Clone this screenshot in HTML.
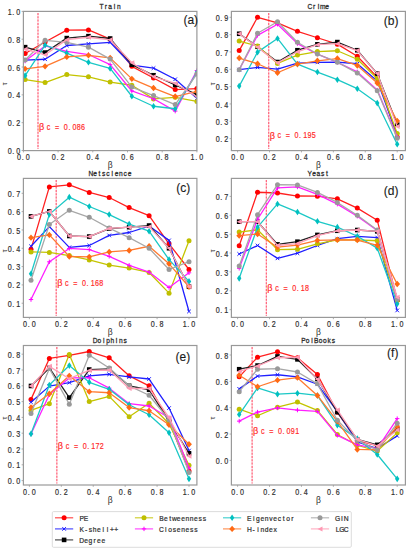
<!DOCTYPE html><html><head><meta charset="utf-8"><style>html,body{margin:0;padding:0;background:#fff;}svg{display:block;}text{font-family:"Liberation Sans", sans-serif;}</style></head><body>
<svg width="409" height="550" viewBox="0 0 409 550">
<rect width="409" height="550" fill="#fff"/>
<defs><clipPath id="clip_a"><rect x="23.40" y="11.40" width="173.50" height="139.20"/></clipPath></defs>
<text transform="scale(0.850 1)" x="119.47 124.53 129.59 134.65 139.71" y="8.80" font-size="7.80" fill="#2e2e2e" text-anchor="middle" font-weight="normal" stroke="#2e2e2e" stroke-width="0.30" >Train</text>
<line x1="21.60" y1="150.50" x2="23.40" y2="150.50" stroke="#999999" stroke-width="0.8"/>
<text transform="scale(0.850 1)" x="11.35 15.59 21.47" y="154.10" font-size="8.40" fill="#2e2e2e" text-anchor="middle" font-weight="normal" stroke="#2e2e2e" stroke-width="0.18" >0.0</text>
<line x1="21.60" y1="122.68" x2="23.40" y2="122.68" stroke="#999999" stroke-width="0.8"/>
<text transform="scale(0.850 1)" x="11.35 15.59 21.47" y="126.28" font-size="8.40" fill="#2e2e2e" text-anchor="middle" font-weight="normal" stroke="#2e2e2e" stroke-width="0.18" >0.2</text>
<line x1="21.60" y1="94.86" x2="23.40" y2="94.86" stroke="#999999" stroke-width="0.8"/>
<text transform="scale(0.850 1)" x="11.35 15.59 21.47" y="98.46" font-size="8.40" fill="#2e2e2e" text-anchor="middle" font-weight="normal" stroke="#2e2e2e" stroke-width="0.18" >0.4</text>
<line x1="21.60" y1="67.04" x2="23.40" y2="67.04" stroke="#999999" stroke-width="0.8"/>
<text transform="scale(0.850 1)" x="11.35 15.59 21.47" y="70.64" font-size="8.40" fill="#2e2e2e" text-anchor="middle" font-weight="normal" stroke="#2e2e2e" stroke-width="0.18" >0.6</text>
<line x1="21.60" y1="39.22" x2="23.40" y2="39.22" stroke="#999999" stroke-width="0.8"/>
<text transform="scale(0.850 1)" x="11.35 15.59 21.47" y="42.82" font-size="8.40" fill="#2e2e2e" text-anchor="middle" font-weight="normal" stroke="#2e2e2e" stroke-width="0.18" >0.8</text>
<line x1="21.60" y1="11.40" x2="23.40" y2="11.40" stroke="#999999" stroke-width="0.8"/>
<text transform="scale(0.850 1)" x="11.35 15.59 21.47" y="15.00" font-size="8.40" fill="#2e2e2e" text-anchor="middle" font-weight="normal" stroke="#2e2e2e" stroke-width="0.18" >1.0</text>
<line x1="23.40" y1="150.60" x2="23.40" y2="152.40" stroke="#999999" stroke-width="0.8"/>
<text transform="scale(0.850 1)" x="22.47 26.71 32.59" y="160.20" font-size="8.40" fill="#2e2e2e" text-anchor="middle" font-weight="normal" stroke="#2e2e2e" stroke-width="0.18" >0.0</text>
<line x1="58.10" y1="150.60" x2="58.10" y2="152.40" stroke="#999999" stroke-width="0.8"/>
<text transform="scale(0.850 1)" x="63.29 67.53 73.41" y="160.20" font-size="8.40" fill="#2e2e2e" text-anchor="middle" font-weight="normal" stroke="#2e2e2e" stroke-width="0.18" >0.2</text>
<line x1="92.80" y1="150.60" x2="92.80" y2="152.40" stroke="#999999" stroke-width="0.8"/>
<text transform="scale(0.850 1)" x="104.12 108.35 114.24" y="160.20" font-size="8.40" fill="#2e2e2e" text-anchor="middle" font-weight="normal" stroke="#2e2e2e" stroke-width="0.18" >0.4</text>
<line x1="127.50" y1="150.60" x2="127.50" y2="152.40" stroke="#999999" stroke-width="0.8"/>
<text transform="scale(0.850 1)" x="144.94 149.18 155.06" y="160.20" font-size="8.40" fill="#2e2e2e" text-anchor="middle" font-weight="normal" stroke="#2e2e2e" stroke-width="0.18" >0.6</text>
<line x1="162.20" y1="150.60" x2="162.20" y2="152.40" stroke="#999999" stroke-width="0.8"/>
<text transform="scale(0.850 1)" x="185.76 190.00 195.88" y="160.20" font-size="8.40" fill="#2e2e2e" text-anchor="middle" font-weight="normal" stroke="#2e2e2e" stroke-width="0.18" >0.8</text>
<line x1="196.90" y1="150.60" x2="196.90" y2="152.40" stroke="#999999" stroke-width="0.8"/>
<text transform="scale(0.850 1)" x="226.59 230.82 236.71" y="160.20" font-size="8.40" fill="#2e2e2e" text-anchor="middle" font-weight="normal" stroke="#2e2e2e" stroke-width="0.18" >1.0</text>
<text x="110.15" y="168.40" font-size="8.5" fill="#2e2e2e" text-anchor="middle">β</text>
<text x="0" y="0" font-size="7" fill="#2e2e2e" text-anchor="middle" transform="translate(7.10 83.90) rotate(-90)">τ</text>
<line x1="38.00" y1="13.00" x2="38.00" y2="149.10" stroke="#ff5070" stroke-width="1.1" opacity="0.28"/>
<line x1="38.00" y1="13.00" x2="38.00" y2="149.10" stroke="#ff3a55" stroke-width="1.15" stroke-dasharray="2 1.3" opacity="0.75"/>
<text x="39.00" y="130.00" font-size="9.00" fill="#ff2a2a" stroke="#ff2a2a" stroke-width="0.2">β</text>
<text transform="scale(0.850 1)" x="57.18 62.24 67.29 72.35 77.41 81.65 87.53 92.59 97.65" y="130.00" font-size="8.40" fill="#ff2a2a" text-anchor="middle" font-weight="normal" stroke="#ff2a2a" stroke-width="0.18" >c = 0.086</text>
<g clip-path="url(#clip_a)">
<polyline points="25.13,53.55 45.09,42.00 66.78,30.18 88.46,29.90 110.15,39.22 131.84,66.34 153.53,78.03 175.21,89.57 196.90,88.60" fill="none" stroke="#ff2020" stroke-width="1.3" stroke-linejoin="round"/>
<circle cx="25.13" cy="53.55" r="2.50" fill="#ff0000"/>
<circle cx="45.09" cy="42.00" r="2.50" fill="#ff0000"/>
<circle cx="66.78" cy="30.18" r="2.50" fill="#ff0000"/>
<circle cx="88.46" cy="29.90" r="2.50" fill="#ff0000"/>
<circle cx="110.15" cy="39.22" r="2.50" fill="#ff0000"/>
<circle cx="131.84" cy="66.34" r="2.50" fill="#ff0000"/>
<circle cx="153.53" cy="78.03" r="2.50" fill="#ff0000"/>
<circle cx="175.21" cy="89.57" r="2.50" fill="#ff0000"/>
<circle cx="196.90" cy="88.60" r="2.50" fill="#ff0000"/>
<polyline points="25.13,60.22 45.09,59.25 66.78,45.48 88.46,43.81 110.15,42.28 131.84,65.23 153.53,68.15 175.21,79.28 196.90,98.20" fill="none" stroke="#2020ff" stroke-width="1.3" stroke-linejoin="round"/>
<path d="M23.33 58.42L26.93 62.02M23.33 62.02L26.93 58.42" stroke="#1a1aff" stroke-width="1" fill="none"/>
<path d="M43.29 57.45L46.89 61.05M43.29 61.05L46.89 57.45" stroke="#1a1aff" stroke-width="1" fill="none"/>
<path d="M64.98 43.68L68.58 47.28M64.98 47.28L68.58 43.68" stroke="#1a1aff" stroke-width="1" fill="none"/>
<path d="M86.66 42.01L90.26 45.61M86.66 45.61L90.26 42.01" stroke="#1a1aff" stroke-width="1" fill="none"/>
<path d="M108.35 40.48L111.95 44.08M108.35 44.08L111.95 40.48" stroke="#1a1aff" stroke-width="1" fill="none"/>
<path d="M130.04 63.43L133.64 67.03M130.04 67.03L133.64 63.43" stroke="#1a1aff" stroke-width="1" fill="none"/>
<path d="M151.72 66.35L155.33 69.95M151.72 69.95L155.33 66.35" stroke="#1a1aff" stroke-width="1" fill="none"/>
<path d="M173.41 77.48L177.01 81.08M173.41 81.08L177.01 77.48" stroke="#1a1aff" stroke-width="1" fill="none"/>
<path d="M195.10 96.40L198.70 100.00M195.10 100.00L198.70 96.40" stroke="#1a1aff" stroke-width="1" fill="none"/>
<polyline points="25.13,47.15 45.09,52.57 66.78,38.11 88.46,36.16 110.15,38.52 131.84,64.68 153.53,75.25 175.21,84.98 196.90,94.44" fill="none" stroke="#222222" stroke-width="1.3" stroke-linejoin="round"/>
<rect x="22.83" y="44.85" width="4.60" height="4.60" fill="#000000"/>
<rect x="42.79" y="50.27" width="4.60" height="4.60" fill="#000000"/>
<rect x="64.48" y="35.81" width="4.60" height="4.60" fill="#000000"/>
<rect x="86.16" y="33.86" width="4.60" height="4.60" fill="#000000"/>
<rect x="107.85" y="36.22" width="4.60" height="4.60" fill="#000000"/>
<rect x="129.54" y="62.38" width="4.60" height="4.60" fill="#000000"/>
<rect x="151.22" y="72.95" width="4.60" height="4.60" fill="#000000"/>
<rect x="172.91" y="82.68" width="4.60" height="4.60" fill="#000000"/>
<rect x="194.60" y="92.14" width="4.60" height="4.60" fill="#000000"/>
<polyline points="25.13,79.56 45.09,82.62 66.78,74.55 88.46,76.78 110.15,82.06 131.84,85.26 153.53,98.89 175.21,97.36 196.90,101.40" fill="none" stroke="#c4c400" stroke-width="1.3" stroke-linejoin="round"/>
<circle cx="25.13" cy="79.56" r="2.50" fill="#bfbf00"/>
<circle cx="45.09" cy="82.62" r="2.50" fill="#bfbf00"/>
<circle cx="66.78" cy="74.55" r="2.50" fill="#bfbf00"/>
<circle cx="88.46" cy="76.78" r="2.50" fill="#bfbf00"/>
<circle cx="110.15" cy="82.06" r="2.50" fill="#bfbf00"/>
<circle cx="131.84" cy="85.26" r="2.50" fill="#bfbf00"/>
<circle cx="153.53" cy="98.89" r="2.50" fill="#bfbf00"/>
<circle cx="175.21" cy="97.36" r="2.50" fill="#bfbf00"/>
<circle cx="196.90" cy="101.40" r="2.50" fill="#bfbf00"/>
<polyline points="25.13,61.06 45.09,45.90 66.78,51.46 88.46,54.52 110.15,64.68 131.84,90.97 153.53,98.75 175.21,111.13 196.90,70.52" fill="none" stroke="#ff20ff" stroke-width="1.3" stroke-linejoin="round"/>
<path d="M22.93 61.06L27.33 61.06M25.13 58.86L25.13 63.26" stroke="#ff00ff" stroke-width="1" fill="none"/>
<path d="M42.89 45.90L47.29 45.90M45.09 43.70L45.09 48.10" stroke="#ff00ff" stroke-width="1" fill="none"/>
<path d="M64.58 51.46L68.98 51.46M66.78 49.26L66.78 53.66" stroke="#ff00ff" stroke-width="1" fill="none"/>
<path d="M86.26 54.52L90.66 54.52M88.46 52.32L88.46 56.72" stroke="#ff00ff" stroke-width="1" fill="none"/>
<path d="M107.95 64.68L112.35 64.68M110.15 62.48L110.15 66.88" stroke="#ff00ff" stroke-width="1" fill="none"/>
<path d="M129.64 90.97L134.04 90.97M131.84 88.77L131.84 93.17" stroke="#ff00ff" stroke-width="1" fill="none"/>
<path d="M151.33 98.75L155.72 98.75M153.53 96.55L153.53 100.95" stroke="#ff00ff" stroke-width="1" fill="none"/>
<path d="M173.01 111.13L177.41 111.13M175.21 108.93L175.21 113.33" stroke="#ff00ff" stroke-width="1" fill="none"/>
<path d="M194.70 70.52L199.10 70.52M196.90 68.32L196.90 72.72" stroke="#ff00ff" stroke-width="1" fill="none"/>
<polyline points="25.13,75.66 45.09,45.06 66.78,53.13 88.46,62.31 110.15,68.43 131.84,96.25 153.53,106.27 175.21,108.77 196.90,72.33" fill="none" stroke="#1cc8c6" stroke-width="1.3" stroke-linejoin="round"/>
<path d="M25.13 72.36L27.33 75.66L25.13 78.96L22.93 75.66Z" fill="#00c0c0"/>
<path d="M45.09 41.76L47.29 45.06L45.09 48.36L42.89 45.06Z" fill="#00c0c0"/>
<path d="M66.78 49.83L68.98 53.13L66.78 56.43L64.58 53.13Z" fill="#00c0c0"/>
<path d="M88.46 59.01L90.66 62.31L88.46 65.61L86.26 62.31Z" fill="#00c0c0"/>
<path d="M110.15 65.13L112.35 68.43L110.15 71.73L107.95 68.43Z" fill="#00c0c0"/>
<path d="M131.84 92.95L134.04 96.25L131.84 99.55L129.64 96.25Z" fill="#00c0c0"/>
<path d="M153.53 102.97L155.72 106.27L153.53 109.57L151.33 106.27Z" fill="#00c0c0"/>
<path d="M175.21 105.47L177.41 108.77L175.21 112.07L173.01 108.77Z" fill="#00c0c0"/>
<path d="M196.90 69.03L199.10 72.33L196.90 75.63L194.70 72.33Z" fill="#00c0c0"/>
<polyline points="25.13,68.85 45.09,66.34 66.78,56.89 88.46,55.36 110.15,57.86 131.84,78.86 153.53,88.04 175.21,96.53 196.90,91.38" fill="none" stroke="#ff7a30" stroke-width="1.3" stroke-linejoin="round"/>
<path d="M25.13 65.65L28.03 68.85L25.13 72.05L22.23 68.85Z" fill="#ff6a14"/>
<path d="M45.09 63.14L47.99 66.34L45.09 69.54L42.19 66.34Z" fill="#ff6a14"/>
<path d="M66.78 53.69L69.68 56.89L66.78 60.09L63.88 56.89Z" fill="#ff6a14"/>
<path d="M88.46 52.16L91.36 55.36L88.46 58.56L85.56 55.36Z" fill="#ff6a14"/>
<path d="M110.15 54.66L113.05 57.86L110.15 61.06L107.25 57.86Z" fill="#ff6a14"/>
<path d="M131.84 75.66L134.74 78.86L131.84 82.06L128.94 78.86Z" fill="#ff6a14"/>
<path d="M153.53 84.84L156.43 88.04L153.53 91.24L150.62 88.04Z" fill="#ff6a14"/>
<path d="M175.21 93.33L178.11 96.53L175.21 99.73L172.31 96.53Z" fill="#ff6a14"/>
<path d="M196.90 88.18L199.80 91.38L196.90 94.58L194.00 91.38Z" fill="#ff6a14"/>
<polyline points="25.13,59.95 45.09,40.33 66.78,42.28 88.46,47.15 110.15,59.11 131.84,87.07 153.53,95.56 175.21,104.60 196.90,73.99" fill="none" stroke="#a8a8a8" stroke-width="1.3" stroke-linejoin="round"/>
<circle cx="25.13" cy="59.95" r="2.50" fill="#999999"/>
<circle cx="45.09" cy="40.33" r="2.50" fill="#999999"/>
<circle cx="66.78" cy="42.28" r="2.50" fill="#999999"/>
<circle cx="88.46" cy="47.15" r="2.50" fill="#999999"/>
<circle cx="110.15" cy="59.11" r="2.50" fill="#999999"/>
<circle cx="131.84" cy="87.07" r="2.50" fill="#999999"/>
<circle cx="153.53" cy="95.56" r="2.50" fill="#999999"/>
<circle cx="175.21" cy="104.60" r="2.50" fill="#999999"/>
<circle cx="196.90" cy="73.99" r="2.50" fill="#999999"/>
<polyline points="25.13,49.24 45.09,54.80 66.78,39.64 88.46,37.27 110.15,39.78 131.84,62.73 153.53,76.64 175.21,83.45 196.90,96.81" fill="none" stroke="#ffa0b8" stroke-width="1.3" stroke-linejoin="round"/>
<path d="M22.63 49.24L27.63 46.74L27.63 51.74Z" fill="#ff99b4"/>
<path d="M42.59 54.80L47.59 52.30L47.59 57.30Z" fill="#ff99b4"/>
<path d="M64.28 39.64L69.28 37.14L69.28 42.14Z" fill="#ff99b4"/>
<path d="M85.96 37.27L90.96 34.77L90.96 39.77Z" fill="#ff99b4"/>
<path d="M107.65 39.78L112.65 37.28L112.65 42.28Z" fill="#ff99b4"/>
<path d="M129.34 62.73L134.34 60.23L134.34 65.23Z" fill="#ff99b4"/>
<path d="M151.03 76.64L156.03 74.14L156.03 79.14Z" fill="#ff99b4"/>
<path d="M172.71 83.45L177.71 80.95L177.71 85.95Z" fill="#ff99b4"/>
<path d="M194.40 96.81L199.40 94.31L199.40 99.31Z" fill="#ff99b4"/>
</g>
<rect x="23.40" y="11.40" width="173.50" height="139.20" fill="none" stroke="#999999" stroke-width="1.2"/>
<text x="198.10" y="24.40" font-size="12" fill="#1a1a1a" stroke="#1a1a1a" stroke-width="0.12" text-anchor="end">(a)</text>
<defs><clipPath id="clip_b"><rect x="231.40" y="11.40" width="174.00" height="139.20"/></clipPath></defs>
<text transform="scale(0.850 1)" x="364.47 369.53 374.59 379.65 384.71" y="8.80" font-size="7.80" fill="#2e2e2e" text-anchor="middle" font-weight="normal" stroke="#2e2e2e" stroke-width="0.30" >Crime</text>
<line x1="229.60" y1="138.61" x2="231.40" y2="138.61" stroke="#999999" stroke-width="0.8"/>
<text transform="scale(0.850 1)" x="256.06 260.29 266.18" y="142.21" font-size="8.40" fill="#2e2e2e" text-anchor="middle" font-weight="normal" stroke="#2e2e2e" stroke-width="0.18" >0.2</text>
<line x1="229.60" y1="121.28" x2="231.40" y2="121.28" stroke="#999999" stroke-width="0.8"/>
<text transform="scale(0.850 1)" x="256.06 260.29 266.18" y="124.88" font-size="8.40" fill="#2e2e2e" text-anchor="middle" font-weight="normal" stroke="#2e2e2e" stroke-width="0.18" >0.3</text>
<line x1="229.60" y1="103.95" x2="231.40" y2="103.95" stroke="#999999" stroke-width="0.8"/>
<text transform="scale(0.850 1)" x="256.06 260.29 266.18" y="107.55" font-size="8.40" fill="#2e2e2e" text-anchor="middle" font-weight="normal" stroke="#2e2e2e" stroke-width="0.18" >0.4</text>
<line x1="229.60" y1="86.62" x2="231.40" y2="86.62" stroke="#999999" stroke-width="0.8"/>
<text transform="scale(0.850 1)" x="256.06 260.29 266.18" y="90.22" font-size="8.40" fill="#2e2e2e" text-anchor="middle" font-weight="normal" stroke="#2e2e2e" stroke-width="0.18" >0.5</text>
<line x1="229.60" y1="69.29" x2="231.40" y2="69.29" stroke="#999999" stroke-width="0.8"/>
<text transform="scale(0.850 1)" x="256.06 260.29 266.18" y="72.89" font-size="8.40" fill="#2e2e2e" text-anchor="middle" font-weight="normal" stroke="#2e2e2e" stroke-width="0.18" >0.6</text>
<line x1="229.60" y1="51.96" x2="231.40" y2="51.96" stroke="#999999" stroke-width="0.8"/>
<text transform="scale(0.850 1)" x="256.06 260.29 266.18" y="55.56" font-size="8.40" fill="#2e2e2e" text-anchor="middle" font-weight="normal" stroke="#2e2e2e" stroke-width="0.18" >0.7</text>
<line x1="229.60" y1="34.63" x2="231.40" y2="34.63" stroke="#999999" stroke-width="0.8"/>
<text transform="scale(0.850 1)" x="256.06 260.29 266.18" y="38.23" font-size="8.40" fill="#2e2e2e" text-anchor="middle" font-weight="normal" stroke="#2e2e2e" stroke-width="0.18" >0.8</text>
<line x1="229.60" y1="17.30" x2="231.40" y2="17.30" stroke="#999999" stroke-width="0.8"/>
<text transform="scale(0.850 1)" x="256.06 260.29 266.18" y="20.90" font-size="8.40" fill="#2e2e2e" text-anchor="middle" font-weight="normal" stroke="#2e2e2e" stroke-width="0.18" >0.9</text>
<line x1="237.60" y1="150.60" x2="237.60" y2="152.40" stroke="#999999" stroke-width="0.8"/>
<text transform="scale(0.850 1)" x="274.47 278.71 284.59" y="160.20" font-size="8.40" fill="#2e2e2e" text-anchor="middle" font-weight="normal" stroke="#2e2e2e" stroke-width="0.18" >0.0</text>
<line x1="269.52" y1="150.60" x2="269.52" y2="152.40" stroke="#999999" stroke-width="0.8"/>
<text transform="scale(0.850 1)" x="312.02 316.26 322.14" y="160.20" font-size="8.40" fill="#2e2e2e" text-anchor="middle" font-weight="normal" stroke="#2e2e2e" stroke-width="0.18" >0.2</text>
<line x1="301.44" y1="150.60" x2="301.44" y2="152.40" stroke="#999999" stroke-width="0.8"/>
<text transform="scale(0.850 1)" x="349.58 353.81 359.69" y="160.20" font-size="8.40" fill="#2e2e2e" text-anchor="middle" font-weight="normal" stroke="#2e2e2e" stroke-width="0.18" >0.4</text>
<line x1="333.36" y1="150.60" x2="333.36" y2="152.40" stroke="#999999" stroke-width="0.8"/>
<text transform="scale(0.850 1)" x="387.13 391.36 397.25" y="160.20" font-size="8.40" fill="#2e2e2e" text-anchor="middle" font-weight="normal" stroke="#2e2e2e" stroke-width="0.18" >0.6</text>
<line x1="365.28" y1="150.60" x2="365.28" y2="152.40" stroke="#999999" stroke-width="0.8"/>
<text transform="scale(0.850 1)" x="424.68 428.92 434.80" y="160.20" font-size="8.40" fill="#2e2e2e" text-anchor="middle" font-weight="normal" stroke="#2e2e2e" stroke-width="0.18" >0.8</text>
<line x1="397.20" y1="150.60" x2="397.20" y2="152.40" stroke="#999999" stroke-width="0.8"/>
<text transform="scale(0.850 1)" x="462.24 466.47 472.35" y="160.20" font-size="8.40" fill="#2e2e2e" text-anchor="middle" font-weight="normal" stroke="#2e2e2e" stroke-width="0.18" >1.0</text>
<text x="318.40" y="168.40" font-size="8.5" fill="#2e2e2e" text-anchor="middle">β</text>
<text x="0" y="0" font-size="7" fill="#2e2e2e" text-anchor="middle" transform="translate(215.10 83.90) rotate(-90)">τ</text>
<line x1="268.72" y1="13.00" x2="268.72" y2="149.10" stroke="#ff5070" stroke-width="1.1" opacity="0.28"/>
<line x1="268.72" y1="13.00" x2="268.72" y2="149.10" stroke="#ff3a55" stroke-width="1.15" stroke-dasharray="2 1.3" opacity="0.75"/>
<text x="269.72" y="138.50" font-size="9.00" fill="#ff2a2a" stroke="#ff2a2a" stroke-width="0.2">β</text>
<text transform="scale(0.850 1)" x="328.61 333.67 338.73 343.79 348.85 353.08 358.97 364.03 369.08" y="138.50" font-size="8.40" fill="#ff2a2a" text-anchor="middle" font-weight="normal" stroke="#ff2a2a" stroke-width="0.18" >c = 0.195</text>
<g clip-path="url(#clip_b)">
<polyline points="239.20,50.57 257.55,17.30 277.50,22.85 297.45,31.34 317.40,37.75 337.35,44.16 357.30,56.29 377.25,77.09 397.20,136.88" fill="none" stroke="#ff2020" stroke-width="1.3" stroke-linejoin="round"/>
<circle cx="239.20" cy="50.57" r="2.50" fill="#ff0000"/>
<circle cx="257.55" cy="17.30" r="2.50" fill="#ff0000"/>
<circle cx="277.50" cy="22.85" r="2.50" fill="#ff0000"/>
<circle cx="297.45" cy="31.34" r="2.50" fill="#ff0000"/>
<circle cx="317.40" cy="37.75" r="2.50" fill="#ff0000"/>
<circle cx="337.35" cy="44.16" r="2.50" fill="#ff0000"/>
<circle cx="357.30" cy="56.29" r="2.50" fill="#ff0000"/>
<circle cx="377.25" cy="77.09" r="2.50" fill="#ff0000"/>
<circle cx="397.20" cy="136.88" r="2.50" fill="#ff0000"/>
<polyline points="239.20,69.64 257.55,67.38 277.50,69.12 297.45,63.22 317.40,62.36 337.35,62.18 357.30,63.74 377.25,80.90 397.20,135.14" fill="none" stroke="#2020ff" stroke-width="1.3" stroke-linejoin="round"/>
<path d="M237.40 67.84L241.00 71.44M237.40 71.44L241.00 67.84" stroke="#1a1aff" stroke-width="1" fill="none"/>
<path d="M255.75 65.58L259.35 69.18M255.75 69.18L259.35 65.58" stroke="#1a1aff" stroke-width="1" fill="none"/>
<path d="M275.70 67.32L279.30 70.92M275.70 70.92L279.30 67.32" stroke="#1a1aff" stroke-width="1" fill="none"/>
<path d="M295.65 61.42L299.25 65.02M295.65 65.02L299.25 61.42" stroke="#1a1aff" stroke-width="1" fill="none"/>
<path d="M315.60 60.56L319.20 64.16M315.60 64.16L319.20 60.56" stroke="#1a1aff" stroke-width="1" fill="none"/>
<path d="M335.55 60.38L339.15 63.98M335.55 63.98L339.15 60.38" stroke="#1a1aff" stroke-width="1" fill="none"/>
<path d="M355.50 61.94L359.10 65.54M355.50 65.54L359.10 61.94" stroke="#1a1aff" stroke-width="1" fill="none"/>
<path d="M375.45 79.10L379.05 82.70M375.45 82.70L379.05 79.10" stroke="#1a1aff" stroke-width="1" fill="none"/>
<path d="M395.40 133.34L399.00 136.94M395.40 136.94L399.00 133.34" stroke="#1a1aff" stroke-width="1" fill="none"/>
<polyline points="239.20,33.76 257.55,46.76 277.50,62.01 297.45,50.23 317.40,44.33 337.35,42.08 357.30,50.23 377.25,73.62 397.20,124.57" fill="none" stroke="#222222" stroke-width="1.3" stroke-linejoin="round"/>
<rect x="236.90" y="31.46" width="4.60" height="4.60" fill="#000000"/>
<rect x="255.25" y="44.46" width="4.60" height="4.60" fill="#000000"/>
<rect x="275.20" y="59.71" width="4.60" height="4.60" fill="#000000"/>
<rect x="295.15" y="47.93" width="4.60" height="4.60" fill="#000000"/>
<rect x="315.10" y="42.03" width="4.60" height="4.60" fill="#000000"/>
<rect x="335.05" y="39.78" width="4.60" height="4.60" fill="#000000"/>
<rect x="355.00" y="47.93" width="4.60" height="4.60" fill="#000000"/>
<rect x="374.95" y="71.32" width="4.60" height="4.60" fill="#000000"/>
<rect x="394.90" y="122.27" width="4.60" height="4.60" fill="#000000"/>
<polyline points="239.20,41.04 257.55,46.07 277.50,63.40 297.45,55.08 317.40,51.61 337.35,50.75 357.30,59.24 377.25,78.47 397.20,133.58" fill="none" stroke="#c4c400" stroke-width="1.3" stroke-linejoin="round"/>
<circle cx="239.20" cy="41.04" r="2.50" fill="#bfbf00"/>
<circle cx="257.55" cy="46.07" r="2.50" fill="#bfbf00"/>
<circle cx="277.50" cy="63.40" r="2.50" fill="#bfbf00"/>
<circle cx="297.45" cy="55.08" r="2.50" fill="#bfbf00"/>
<circle cx="317.40" cy="51.61" r="2.50" fill="#bfbf00"/>
<circle cx="337.35" cy="50.75" r="2.50" fill="#bfbf00"/>
<circle cx="357.30" cy="59.24" r="2.50" fill="#bfbf00"/>
<circle cx="377.25" cy="78.47" r="2.50" fill="#bfbf00"/>
<circle cx="397.20" cy="133.58" r="2.50" fill="#bfbf00"/>
<polyline points="239.20,69.64 257.55,35.32 277.50,24.23 297.45,43.64 317.40,54.21 337.35,62.36 357.30,71.89 377.25,90.09 397.20,136.88" fill="none" stroke="#ff20ff" stroke-width="1.3" stroke-linejoin="round"/>
<path d="M237.00 69.64L241.40 69.64M239.20 67.44L239.20 71.84" stroke="#ff00ff" stroke-width="1" fill="none"/>
<path d="M255.35 35.32L259.75 35.32M257.55 33.12L257.55 37.52" stroke="#ff00ff" stroke-width="1" fill="none"/>
<path d="M275.30 24.23L279.70 24.23M277.50 22.03L277.50 26.43" stroke="#ff00ff" stroke-width="1" fill="none"/>
<path d="M295.25 43.64L299.65 43.64M297.45 41.44L297.45 45.84" stroke="#ff00ff" stroke-width="1" fill="none"/>
<path d="M315.20 54.21L319.60 54.21M317.40 52.01L317.40 56.41" stroke="#ff00ff" stroke-width="1" fill="none"/>
<path d="M335.15 62.36L339.55 62.36M337.35 60.16L337.35 64.56" stroke="#ff00ff" stroke-width="1" fill="none"/>
<path d="M355.10 71.89L359.50 71.89M357.30 69.69L357.30 74.09" stroke="#ff00ff" stroke-width="1" fill="none"/>
<path d="M375.05 90.09L379.45 90.09M377.25 87.89L377.25 92.29" stroke="#ff00ff" stroke-width="1" fill="none"/>
<path d="M395.00 136.88L399.40 136.88M397.20 134.68L397.20 139.08" stroke="#ff00ff" stroke-width="1" fill="none"/>
<polyline points="239.20,86.10 257.55,52.13 277.50,38.44 297.45,64.09 317.40,72.06 337.35,79.69 357.30,88.70 377.25,103.08 397.20,144.16" fill="none" stroke="#1cc8c6" stroke-width="1.3" stroke-linejoin="round"/>
<path d="M239.20 82.80L241.40 86.10L239.20 89.40L237.00 86.10Z" fill="#00c0c0"/>
<path d="M257.55 48.83L259.75 52.13L257.55 55.43L255.35 52.13Z" fill="#00c0c0"/>
<path d="M277.50 35.14L279.70 38.44L277.50 41.74L275.30 38.44Z" fill="#00c0c0"/>
<path d="M297.45 60.79L299.65 64.09L297.45 67.39L295.25 64.09Z" fill="#00c0c0"/>
<path d="M317.40 68.76L319.60 72.06L317.40 75.36L315.20 72.06Z" fill="#00c0c0"/>
<path d="M337.35 76.39L339.55 79.69L337.35 82.99L335.15 79.69Z" fill="#00c0c0"/>
<path d="M357.30 85.40L359.50 88.70L357.30 92.00L355.10 88.70Z" fill="#00c0c0"/>
<path d="M377.25 99.78L379.45 103.08L377.25 106.38L375.05 103.08Z" fill="#00c0c0"/>
<path d="M397.20 140.86L399.40 144.16L397.20 147.46L395.00 144.16Z" fill="#00c0c0"/>
<polyline points="239.20,58.03 257.55,63.74 277.50,72.76 297.45,64.09 317.40,60.80 337.35,58.55 357.30,65.48 377.25,82.98 397.20,120.93" fill="none" stroke="#ff7a30" stroke-width="1.3" stroke-linejoin="round"/>
<path d="M239.20 54.83L242.10 58.03L239.20 61.23L236.30 58.03Z" fill="#ff6a14"/>
<path d="M257.55 60.54L260.45 63.74L257.55 66.94L254.65 63.74Z" fill="#ff6a14"/>
<path d="M277.50 69.56L280.40 72.76L277.50 75.96L274.60 72.76Z" fill="#ff6a14"/>
<path d="M297.45 60.89L300.35 64.09L297.45 67.29L294.55 64.09Z" fill="#ff6a14"/>
<path d="M317.40 57.60L320.30 60.80L317.40 64.00L314.50 60.80Z" fill="#ff6a14"/>
<path d="M337.35 55.35L340.25 58.55L337.35 61.75L334.45 58.55Z" fill="#ff6a14"/>
<path d="M357.30 62.28L360.20 65.48L357.30 68.68L354.40 65.48Z" fill="#ff6a14"/>
<path d="M377.25 79.78L380.15 82.98L377.25 86.18L374.35 82.98Z" fill="#ff6a14"/>
<path d="M397.20 117.73L400.10 120.93L397.20 124.13L394.30 120.93Z" fill="#ff6a14"/>
<polyline points="239.20,69.64 257.55,33.24 277.50,21.81 297.45,42.26 317.40,54.04 337.35,62.18 357.30,73.10 377.25,90.78 397.20,138.26" fill="none" stroke="#a8a8a8" stroke-width="1.3" stroke-linejoin="round"/>
<circle cx="239.20" cy="69.64" r="2.50" fill="#999999"/>
<circle cx="257.55" cy="33.24" r="2.50" fill="#999999"/>
<circle cx="277.50" cy="21.81" r="2.50" fill="#999999"/>
<circle cx="297.45" cy="42.26" r="2.50" fill="#999999"/>
<circle cx="317.40" cy="54.04" r="2.50" fill="#999999"/>
<circle cx="337.35" cy="62.18" r="2.50" fill="#999999"/>
<circle cx="357.30" cy="73.10" r="2.50" fill="#999999"/>
<circle cx="377.25" cy="90.78" r="2.50" fill="#999999"/>
<circle cx="397.20" cy="138.26" r="2.50" fill="#999999"/>
<polyline points="239.20,33.76 257.55,47.28 277.50,62.88 297.45,51.79 317.40,44.68 337.35,43.64 357.30,50.57 377.25,73.62 397.20,126.48" fill="none" stroke="#ffa0b8" stroke-width="1.3" stroke-linejoin="round"/>
<path d="M236.70 33.76L241.70 31.26L241.70 36.26Z" fill="#ff99b4"/>
<path d="M255.05 47.28L260.05 44.78L260.05 49.78Z" fill="#ff99b4"/>
<path d="M275.00 62.88L280.00 60.38L280.00 65.38Z" fill="#ff99b4"/>
<path d="M294.95 51.79L299.95 49.29L299.95 54.29Z" fill="#ff99b4"/>
<path d="M314.90 44.68L319.90 42.18L319.90 47.18Z" fill="#ff99b4"/>
<path d="M334.85 43.64L339.85 41.14L339.85 46.14Z" fill="#ff99b4"/>
<path d="M354.80 50.57L359.80 48.07L359.80 53.07Z" fill="#ff99b4"/>
<path d="M374.75 73.62L379.75 71.12L379.75 76.12Z" fill="#ff99b4"/>
<path d="M394.70 126.48L399.70 123.98L399.70 128.98Z" fill="#ff99b4"/>
</g>
<rect x="231.40" y="11.40" width="174.00" height="139.20" fill="none" stroke="#999999" stroke-width="1.2"/>
<text x="398.40" y="24.65" font-size="12" fill="#1a1a1a" stroke="#1a1a1a" stroke-width="0.12" text-anchor="end">(b)</text>
<defs><clipPath id="clip_c"><rect x="23.40" y="178.40" width="173.50" height="139.00"/></clipPath></defs>
<text transform="scale(0.850 1)" x="106.82 111.88 116.94 122.00 127.06 132.12 137.18 142.24 147.29 152.35" y="175.80" font-size="7.80" fill="#2e2e2e" text-anchor="middle" font-weight="normal" stroke="#2e2e2e" stroke-width="0.30" >Netscience</text>
<line x1="21.60" y1="303.22" x2="23.40" y2="303.22" stroke="#999999" stroke-width="0.8"/>
<text transform="scale(0.850 1)" x="11.35 15.59 21.47" y="306.82" font-size="8.40" fill="#2e2e2e" text-anchor="middle" font-weight="normal" stroke="#2e2e2e" stroke-width="0.18" >0.1</text>
<line x1="21.60" y1="284.90" x2="23.40" y2="284.90" stroke="#999999" stroke-width="0.8"/>
<text transform="scale(0.850 1)" x="11.35 15.59 21.47" y="288.50" font-size="8.40" fill="#2e2e2e" text-anchor="middle" font-weight="normal" stroke="#2e2e2e" stroke-width="0.18" >0.2</text>
<line x1="21.60" y1="266.58" x2="23.40" y2="266.58" stroke="#999999" stroke-width="0.8"/>
<text transform="scale(0.850 1)" x="11.35 15.59 21.47" y="270.18" font-size="8.40" fill="#2e2e2e" text-anchor="middle" font-weight="normal" stroke="#2e2e2e" stroke-width="0.18" >0.3</text>
<line x1="21.60" y1="248.26" x2="23.40" y2="248.26" stroke="#999999" stroke-width="0.8"/>
<text transform="scale(0.850 1)" x="11.35 15.59 21.47" y="251.86" font-size="8.40" fill="#2e2e2e" text-anchor="middle" font-weight="normal" stroke="#2e2e2e" stroke-width="0.18" >0.4</text>
<line x1="21.60" y1="229.94" x2="23.40" y2="229.94" stroke="#999999" stroke-width="0.8"/>
<text transform="scale(0.850 1)" x="11.35 15.59 21.47" y="233.54" font-size="8.40" fill="#2e2e2e" text-anchor="middle" font-weight="normal" stroke="#2e2e2e" stroke-width="0.18" >0.5</text>
<line x1="21.60" y1="211.62" x2="23.40" y2="211.62" stroke="#999999" stroke-width="0.8"/>
<text transform="scale(0.850 1)" x="11.35 15.59 21.47" y="215.22" font-size="8.40" fill="#2e2e2e" text-anchor="middle" font-weight="normal" stroke="#2e2e2e" stroke-width="0.18" >0.6</text>
<line x1="21.60" y1="193.30" x2="23.40" y2="193.30" stroke="#999999" stroke-width="0.8"/>
<text transform="scale(0.850 1)" x="11.35 15.59 21.47" y="196.90" font-size="8.40" fill="#2e2e2e" text-anchor="middle" font-weight="normal" stroke="#2e2e2e" stroke-width="0.18" >0.7</text>
<line x1="29.40" y1="317.40" x2="29.40" y2="319.20" stroke="#999999" stroke-width="0.8"/>
<text transform="scale(0.850 1)" x="29.53 33.76 39.65" y="327.00" font-size="8.40" fill="#2e2e2e" text-anchor="middle" font-weight="normal" stroke="#2e2e2e" stroke-width="0.18" >0.0</text>
<line x1="61.32" y1="317.40" x2="61.32" y2="319.20" stroke="#999999" stroke-width="0.8"/>
<text transform="scale(0.850 1)" x="67.08 71.32 77.20" y="327.00" font-size="8.40" fill="#2e2e2e" text-anchor="middle" font-weight="normal" stroke="#2e2e2e" stroke-width="0.18" >0.2</text>
<line x1="93.24" y1="317.40" x2="93.24" y2="319.20" stroke="#999999" stroke-width="0.8"/>
<text transform="scale(0.850 1)" x="104.64 108.87 114.75" y="327.00" font-size="8.40" fill="#2e2e2e" text-anchor="middle" font-weight="normal" stroke="#2e2e2e" stroke-width="0.18" >0.4</text>
<line x1="125.16" y1="317.40" x2="125.16" y2="319.20" stroke="#999999" stroke-width="0.8"/>
<text transform="scale(0.850 1)" x="142.19 146.42 152.31" y="327.00" font-size="8.40" fill="#2e2e2e" text-anchor="middle" font-weight="normal" stroke="#2e2e2e" stroke-width="0.18" >0.6</text>
<line x1="157.08" y1="317.40" x2="157.08" y2="319.20" stroke="#999999" stroke-width="0.8"/>
<text transform="scale(0.850 1)" x="179.74 183.98 189.86" y="327.00" font-size="8.40" fill="#2e2e2e" text-anchor="middle" font-weight="normal" stroke="#2e2e2e" stroke-width="0.18" >0.8</text>
<line x1="189.00" y1="317.40" x2="189.00" y2="319.20" stroke="#999999" stroke-width="0.8"/>
<text transform="scale(0.850 1)" x="217.29 221.53 227.41" y="327.00" font-size="8.40" fill="#2e2e2e" text-anchor="middle" font-weight="normal" stroke="#2e2e2e" stroke-width="0.18" >1.0</text>
<text x="110.15" y="335.20" font-size="8.5" fill="#2e2e2e" text-anchor="middle">β</text>
<text x="0" y="0" font-size="7" fill="#2e2e2e" text-anchor="middle" transform="translate(7.10 250.80) rotate(-90)">τ</text>
<line x1="56.21" y1="180.00" x2="56.21" y2="315.90" stroke="#ff5070" stroke-width="1.1" opacity="0.28"/>
<line x1="56.21" y1="180.00" x2="56.21" y2="315.90" stroke="#ff3a55" stroke-width="1.15" stroke-dasharray="2 1.3" opacity="0.75"/>
<text x="57.21" y="285.60" font-size="9.00" fill="#ff2a2a" stroke="#ff2a2a" stroke-width="0.2">β</text>
<text transform="scale(0.850 1)" x="78.60 83.66 88.72 93.78 98.84 103.07 108.96 114.02 119.07" y="285.60" font-size="8.40" fill="#ff2a2a" text-anchor="middle" font-weight="normal" stroke="#ff2a2a" stroke-width="0.18" >c = 0.168</text>
<g clip-path="url(#clip_c)">
<polyline points="31.00,249.18 49.35,186.89 69.30,184.87 89.25,192.38 109.20,197.51 129.15,207.59 149.10,215.65 169.05,243.86 189.00,269.51" fill="none" stroke="#ff2020" stroke-width="1.3" stroke-linejoin="round"/>
<circle cx="31.00" cy="249.18" r="2.50" fill="#ff0000"/>
<circle cx="49.35" cy="186.89" r="2.50" fill="#ff0000"/>
<circle cx="69.30" cy="184.87" r="2.50" fill="#ff0000"/>
<circle cx="89.25" cy="192.38" r="2.50" fill="#ff0000"/>
<circle cx="109.20" cy="197.51" r="2.50" fill="#ff0000"/>
<circle cx="129.15" cy="207.59" r="2.50" fill="#ff0000"/>
<circle cx="149.10" cy="215.65" r="2.50" fill="#ff0000"/>
<circle cx="169.05" cy="243.86" r="2.50" fill="#ff0000"/>
<circle cx="189.00" cy="269.51" r="2.50" fill="#ff0000"/>
<polyline points="31.00,246.24 49.35,226.64 69.30,247.34 89.25,245.51 109.20,235.44 129.15,232.50 149.10,226.09 169.05,240.38 189.00,311.46" fill="none" stroke="#2020ff" stroke-width="1.3" stroke-linejoin="round"/>
<path d="M29.20 244.44L32.80 248.04M29.20 248.04L32.80 244.44" stroke="#1a1aff" stroke-width="1" fill="none"/>
<path d="M47.55 224.84L51.15 228.44M47.55 228.44L51.15 224.84" stroke="#1a1aff" stroke-width="1" fill="none"/>
<path d="M67.50 245.54L71.10 249.14M67.50 249.14L71.10 245.54" stroke="#1a1aff" stroke-width="1" fill="none"/>
<path d="M87.45 243.71L91.05 247.31M87.45 247.31L91.05 243.71" stroke="#1a1aff" stroke-width="1" fill="none"/>
<path d="M107.40 233.64L111.00 237.24M107.40 237.24L111.00 233.64" stroke="#1a1aff" stroke-width="1" fill="none"/>
<path d="M127.35 230.70L130.95 234.30M127.35 234.30L130.95 230.70" stroke="#1a1aff" stroke-width="1" fill="none"/>
<path d="M147.30 224.29L150.90 227.89M147.30 227.89L150.90 224.29" stroke="#1a1aff" stroke-width="1" fill="none"/>
<path d="M167.25 238.58L170.85 242.18M167.25 242.18L170.85 238.58" stroke="#1a1aff" stroke-width="1" fill="none"/>
<path d="M187.20 309.66L190.80 313.26M187.20 313.26L190.80 309.66" stroke="#1a1aff" stroke-width="1" fill="none"/>
<polyline points="31.00,216.38 49.35,211.44 69.30,235.99 89.25,236.54 109.20,228.66 129.15,227.19 149.10,225.54 169.05,248.26 189.00,286.73" fill="none" stroke="#222222" stroke-width="1.3" stroke-linejoin="round"/>
<rect x="28.70" y="214.08" width="4.60" height="4.60" fill="#000000"/>
<rect x="47.05" y="209.14" width="4.60" height="4.60" fill="#000000"/>
<rect x="67.00" y="233.69" width="4.60" height="4.60" fill="#000000"/>
<rect x="86.95" y="234.24" width="4.60" height="4.60" fill="#000000"/>
<rect x="106.90" y="226.36" width="4.60" height="4.60" fill="#000000"/>
<rect x="126.85" y="224.89" width="4.60" height="4.60" fill="#000000"/>
<rect x="146.80" y="223.24" width="4.60" height="4.60" fill="#000000"/>
<rect x="166.75" y="245.96" width="4.60" height="4.60" fill="#000000"/>
<rect x="186.70" y="284.43" width="4.60" height="4.60" fill="#000000"/>
<polyline points="31.00,251.92 49.35,252.47 69.30,255.59 89.25,259.98 109.20,265.11 129.15,268.05 149.10,272.44 169.05,293.14 189.00,240.75" fill="none" stroke="#c4c400" stroke-width="1.3" stroke-linejoin="round"/>
<circle cx="31.00" cy="251.92" r="2.50" fill="#bfbf00"/>
<circle cx="49.35" cy="252.47" r="2.50" fill="#bfbf00"/>
<circle cx="69.30" cy="255.59" r="2.50" fill="#bfbf00"/>
<circle cx="89.25" cy="259.98" r="2.50" fill="#bfbf00"/>
<circle cx="109.20" cy="265.11" r="2.50" fill="#bfbf00"/>
<circle cx="129.15" cy="268.05" r="2.50" fill="#bfbf00"/>
<circle cx="149.10" cy="272.44" r="2.50" fill="#bfbf00"/>
<circle cx="169.05" cy="293.14" r="2.50" fill="#bfbf00"/>
<circle cx="189.00" cy="240.75" r="2.50" fill="#bfbf00"/>
<polyline points="31.00,299.56 49.35,261.82 69.30,248.44 89.25,249.54 109.20,256.32 129.15,265.30 149.10,272.08 169.05,287.46 189.00,272.81" fill="none" stroke="#ff20ff" stroke-width="1.3" stroke-linejoin="round"/>
<path d="M28.80 299.56L33.20 299.56M31.00 297.36L31.00 301.76" stroke="#ff00ff" stroke-width="1" fill="none"/>
<path d="M47.15 261.82L51.55 261.82M49.35 259.62L49.35 264.02" stroke="#ff00ff" stroke-width="1" fill="none"/>
<path d="M67.10 248.44L71.50 248.44M69.30 246.24L69.30 250.64" stroke="#ff00ff" stroke-width="1" fill="none"/>
<path d="M87.05 249.54L91.45 249.54M89.25 247.34L89.25 251.74" stroke="#ff00ff" stroke-width="1" fill="none"/>
<path d="M107.00 256.32L111.40 256.32M109.20 254.12L109.20 258.52" stroke="#ff00ff" stroke-width="1" fill="none"/>
<path d="M126.95 265.30L131.35 265.30M129.15 263.10L129.15 267.50" stroke="#ff00ff" stroke-width="1" fill="none"/>
<path d="M146.90 272.08L151.30 272.08M149.10 269.88L149.10 274.28" stroke="#ff00ff" stroke-width="1" fill="none"/>
<path d="M166.85 287.46L171.25 287.46M169.05 285.26L169.05 289.66" stroke="#ff00ff" stroke-width="1" fill="none"/>
<path d="M186.80 272.81L191.20 272.81M189.00 270.61L189.00 275.01" stroke="#ff00ff" stroke-width="1" fill="none"/>
<polyline points="31.00,273.72 49.35,214.37 69.30,197.15 89.25,206.49 109.20,214.55 129.15,224.08 149.10,231.22 169.05,259.62 189.00,281.42" fill="none" stroke="#1cc8c6" stroke-width="1.3" stroke-linejoin="round"/>
<path d="M31.00 270.42L33.20 273.72L31.00 277.02L28.80 273.72Z" fill="#00c0c0"/>
<path d="M49.35 211.07L51.55 214.37L49.35 217.67L47.15 214.37Z" fill="#00c0c0"/>
<path d="M69.30 193.85L71.50 197.15L69.30 200.45L67.10 197.15Z" fill="#00c0c0"/>
<path d="M89.25 203.19L91.45 206.49L89.25 209.79L87.05 206.49Z" fill="#00c0c0"/>
<path d="M109.20 211.25L111.40 214.55L109.20 217.85L107.00 214.55Z" fill="#00c0c0"/>
<path d="M129.15 220.78L131.35 224.08L129.15 227.38L126.95 224.08Z" fill="#00c0c0"/>
<path d="M149.10 227.92L151.30 231.22L149.10 234.52L146.90 231.22Z" fill="#00c0c0"/>
<path d="M169.05 256.32L171.25 259.62L169.05 262.92L166.85 259.62Z" fill="#00c0c0"/>
<path d="M189.00 278.12L191.20 281.42L189.00 284.72L186.80 281.42Z" fill="#00c0c0"/>
<polyline points="31.00,237.63 49.35,234.89 69.30,256.50 89.25,256.87 109.20,251.92 129.15,250.46 149.10,246.24 169.05,263.83 189.00,286.73" fill="none" stroke="#ff7a30" stroke-width="1.3" stroke-linejoin="round"/>
<path d="M31.00 234.43L33.90 237.63L31.00 240.83L28.10 237.63Z" fill="#ff6a14"/>
<path d="M49.35 231.69L52.25 234.89L49.35 238.09L46.45 234.89Z" fill="#ff6a14"/>
<path d="M69.30 253.30L72.20 256.50L69.30 259.70L66.40 256.50Z" fill="#ff6a14"/>
<path d="M89.25 253.67L92.15 256.87L89.25 260.07L86.35 256.87Z" fill="#ff6a14"/>
<path d="M109.20 248.72L112.10 251.92L109.20 255.12L106.30 251.92Z" fill="#ff6a14"/>
<path d="M129.15 247.26L132.05 250.46L129.15 253.66L126.25 250.46Z" fill="#ff6a14"/>
<path d="M149.10 243.04L152.00 246.24L149.10 249.44L146.20 246.24Z" fill="#ff6a14"/>
<path d="M169.05 260.63L171.95 263.83L169.05 267.03L166.15 263.83Z" fill="#ff6a14"/>
<path d="M189.00 283.53L191.90 286.73L189.00 289.93L186.10 286.73Z" fill="#ff6a14"/>
<polyline points="31.00,280.32 49.35,224.44 69.30,210.34 89.25,217.30 109.20,228.11 129.15,237.63 149.10,248.26 169.05,269.51 189.00,261.63" fill="none" stroke="#a8a8a8" stroke-width="1.3" stroke-linejoin="round"/>
<circle cx="31.00" cy="280.32" r="2.50" fill="#999999"/>
<circle cx="49.35" cy="224.44" r="2.50" fill="#999999"/>
<circle cx="69.30" cy="210.34" r="2.50" fill="#999999"/>
<circle cx="89.25" cy="217.30" r="2.50" fill="#999999"/>
<circle cx="109.20" cy="228.11" r="2.50" fill="#999999"/>
<circle cx="129.15" cy="237.63" r="2.50" fill="#999999"/>
<circle cx="149.10" cy="248.26" r="2.50" fill="#999999"/>
<circle cx="169.05" cy="269.51" r="2.50" fill="#999999"/>
<circle cx="189.00" cy="261.63" r="2.50" fill="#999999"/>
<polyline points="31.00,216.38 49.35,211.44 69.30,235.99 89.25,236.54 109.20,228.47 129.15,227.19 149.10,226.64 169.05,248.26 189.00,286.73" fill="none" stroke="#ffa0b8" stroke-width="1.3" stroke-linejoin="round"/>
<path d="M28.50 216.38L33.50 213.88L33.50 218.88Z" fill="#ff99b4"/>
<path d="M46.85 211.44L51.85 208.94L51.85 213.94Z" fill="#ff99b4"/>
<path d="M66.80 235.99L71.80 233.49L71.80 238.49Z" fill="#ff99b4"/>
<path d="M86.75 236.54L91.75 234.04L91.75 239.04Z" fill="#ff99b4"/>
<path d="M106.70 228.47L111.70 225.97L111.70 230.97Z" fill="#ff99b4"/>
<path d="M126.65 227.19L131.65 224.69L131.65 229.69Z" fill="#ff99b4"/>
<path d="M146.60 226.64L151.60 224.14L151.60 229.14Z" fill="#ff99b4"/>
<path d="M166.55 248.26L171.55 245.76L171.55 250.76Z" fill="#ff99b4"/>
<path d="M186.50 286.73L191.50 284.23L191.50 289.23Z" fill="#ff99b4"/>
</g>
<rect x="23.40" y="178.40" width="173.50" height="139.00" fill="none" stroke="#999999" stroke-width="1.2"/>
<text x="190.20" y="191.70" font-size="12" fill="#1a1a1a" stroke="#1a1a1a" stroke-width="0.12" text-anchor="end">(c)</text>
<defs><clipPath id="clip_d"><rect x="231.40" y="178.40" width="174.00" height="139.00"/></clipPath></defs>
<text transform="scale(0.850 1)" x="364.47 369.53 374.59 379.65 384.71" y="175.80" font-size="7.80" fill="#2e2e2e" text-anchor="middle" font-weight="normal" stroke="#2e2e2e" stroke-width="0.30" >Yeast</text>
<line x1="229.60" y1="309.68" x2="231.40" y2="309.68" stroke="#999999" stroke-width="0.8"/>
<text transform="scale(0.850 1)" x="256.06 260.29 266.18" y="313.28" font-size="8.40" fill="#2e2e2e" text-anchor="middle" font-weight="normal" stroke="#2e2e2e" stroke-width="0.18" >0.1</text>
<line x1="229.60" y1="290.80" x2="231.40" y2="290.80" stroke="#999999" stroke-width="0.8"/>
<text transform="scale(0.850 1)" x="256.06 260.29 266.18" y="294.40" font-size="8.40" fill="#2e2e2e" text-anchor="middle" font-weight="normal" stroke="#2e2e2e" stroke-width="0.18" >0.2</text>
<line x1="229.60" y1="271.92" x2="231.40" y2="271.92" stroke="#999999" stroke-width="0.8"/>
<text transform="scale(0.850 1)" x="256.06 260.29 266.18" y="275.52" font-size="8.40" fill="#2e2e2e" text-anchor="middle" font-weight="normal" stroke="#2e2e2e" stroke-width="0.18" >0.3</text>
<line x1="229.60" y1="253.04" x2="231.40" y2="253.04" stroke="#999999" stroke-width="0.8"/>
<text transform="scale(0.850 1)" x="256.06 260.29 266.18" y="256.64" font-size="8.40" fill="#2e2e2e" text-anchor="middle" font-weight="normal" stroke="#2e2e2e" stroke-width="0.18" >0.4</text>
<line x1="229.60" y1="234.16" x2="231.40" y2="234.16" stroke="#999999" stroke-width="0.8"/>
<text transform="scale(0.850 1)" x="256.06 260.29 266.18" y="237.76" font-size="8.40" fill="#2e2e2e" text-anchor="middle" font-weight="normal" stroke="#2e2e2e" stroke-width="0.18" >0.5</text>
<line x1="229.60" y1="215.28" x2="231.40" y2="215.28" stroke="#999999" stroke-width="0.8"/>
<text transform="scale(0.850 1)" x="256.06 260.29 266.18" y="218.88" font-size="8.40" fill="#2e2e2e" text-anchor="middle" font-weight="normal" stroke="#2e2e2e" stroke-width="0.18" >0.6</text>
<line x1="229.60" y1="196.40" x2="231.40" y2="196.40" stroke="#999999" stroke-width="0.8"/>
<text transform="scale(0.850 1)" x="256.06 260.29 266.18" y="200.00" font-size="8.40" fill="#2e2e2e" text-anchor="middle" font-weight="normal" stroke="#2e2e2e" stroke-width="0.18" >0.7</text>
<line x1="237.60" y1="317.40" x2="237.60" y2="319.20" stroke="#999999" stroke-width="0.8"/>
<text transform="scale(0.850 1)" x="274.47 278.71 284.59" y="327.00" font-size="8.40" fill="#2e2e2e" text-anchor="middle" font-weight="normal" stroke="#2e2e2e" stroke-width="0.18" >0.0</text>
<line x1="269.52" y1="317.40" x2="269.52" y2="319.20" stroke="#999999" stroke-width="0.8"/>
<text transform="scale(0.850 1)" x="312.02 316.26 322.14" y="327.00" font-size="8.40" fill="#2e2e2e" text-anchor="middle" font-weight="normal" stroke="#2e2e2e" stroke-width="0.18" >0.2</text>
<line x1="301.44" y1="317.40" x2="301.44" y2="319.20" stroke="#999999" stroke-width="0.8"/>
<text transform="scale(0.850 1)" x="349.58 353.81 359.69" y="327.00" font-size="8.40" fill="#2e2e2e" text-anchor="middle" font-weight="normal" stroke="#2e2e2e" stroke-width="0.18" >0.4</text>
<line x1="333.36" y1="317.40" x2="333.36" y2="319.20" stroke="#999999" stroke-width="0.8"/>
<text transform="scale(0.850 1)" x="387.13 391.36 397.25" y="327.00" font-size="8.40" fill="#2e2e2e" text-anchor="middle" font-weight="normal" stroke="#2e2e2e" stroke-width="0.18" >0.6</text>
<line x1="365.28" y1="317.40" x2="365.28" y2="319.20" stroke="#999999" stroke-width="0.8"/>
<text transform="scale(0.850 1)" x="424.68 428.92 434.80" y="327.00" font-size="8.40" fill="#2e2e2e" text-anchor="middle" font-weight="normal" stroke="#2e2e2e" stroke-width="0.18" >0.8</text>
<line x1="397.20" y1="317.40" x2="397.20" y2="319.20" stroke="#999999" stroke-width="0.8"/>
<text transform="scale(0.850 1)" x="462.24 466.47 472.35" y="327.00" font-size="8.40" fill="#2e2e2e" text-anchor="middle" font-weight="normal" stroke="#2e2e2e" stroke-width="0.18" >1.0</text>
<text x="318.40" y="335.20" font-size="8.5" fill="#2e2e2e" text-anchor="middle">β</text>
<text x="0" y="0" font-size="7" fill="#2e2e2e" text-anchor="middle" transform="translate(215.10 250.80) rotate(-90)">τ</text>
<line x1="266.33" y1="180.00" x2="266.33" y2="315.90" stroke="#ff5070" stroke-width="1.1" opacity="0.28"/>
<line x1="266.33" y1="180.00" x2="266.33" y2="315.90" stroke="#ff3a55" stroke-width="1.15" stroke-dasharray="2 1.3" opacity="0.75"/>
<text x="267.33" y="291.10" font-size="9.00" fill="#ff2a2a" stroke="#ff2a2a" stroke-width="0.2">β</text>
<text transform="scale(0.850 1)" x="325.80 330.86 335.92 340.97 346.03 350.27 356.15 361.21" y="291.10" font-size="8.40" fill="#ff2a2a" text-anchor="middle" font-weight="normal" stroke="#ff2a2a" stroke-width="0.18" >c = 0.18</text>
<g clip-path="url(#clip_d)">
<polyline points="239.20,245.68 257.55,192.25 277.50,193.00 297.45,196.02 317.40,196.21 337.35,198.85 357.30,208.11 377.25,220.19 397.20,300.24" fill="none" stroke="#ff2020" stroke-width="1.3" stroke-linejoin="round"/>
<circle cx="239.20" cy="245.68" r="2.50" fill="#ff0000"/>
<circle cx="257.55" cy="192.25" r="2.50" fill="#ff0000"/>
<circle cx="277.50" cy="193.00" r="2.50" fill="#ff0000"/>
<circle cx="297.45" cy="196.02" r="2.50" fill="#ff0000"/>
<circle cx="317.40" cy="196.21" r="2.50" fill="#ff0000"/>
<circle cx="337.35" cy="198.85" r="2.50" fill="#ff0000"/>
<circle cx="357.30" cy="208.11" r="2.50" fill="#ff0000"/>
<circle cx="377.25" cy="220.19" r="2.50" fill="#ff0000"/>
<circle cx="397.20" cy="300.24" r="2.50" fill="#ff0000"/>
<polyline points="239.20,253.98 257.55,245.49 277.50,258.33 297.45,253.23 317.40,245.49 337.35,238.69 357.30,236.43 377.25,237.56 397.20,310.44" fill="none" stroke="#2020ff" stroke-width="1.3" stroke-linejoin="round"/>
<path d="M237.40 252.18L241.00 255.78M237.40 255.78L241.00 252.18" stroke="#1a1aff" stroke-width="1" fill="none"/>
<path d="M255.75 243.69L259.35 247.29M255.75 247.29L259.35 243.69" stroke="#1a1aff" stroke-width="1" fill="none"/>
<path d="M275.70 256.53L279.30 260.13M275.70 260.13L279.30 256.53" stroke="#1a1aff" stroke-width="1" fill="none"/>
<path d="M295.65 251.43L299.25 255.03M295.65 255.03L299.25 251.43" stroke="#1a1aff" stroke-width="1" fill="none"/>
<path d="M315.60 243.69L319.20 247.29M315.60 247.29L319.20 243.69" stroke="#1a1aff" stroke-width="1" fill="none"/>
<path d="M335.55 236.89L339.15 240.49M335.55 240.49L339.15 236.89" stroke="#1a1aff" stroke-width="1" fill="none"/>
<path d="M355.50 234.63L359.10 238.23M355.50 238.23L359.10 234.63" stroke="#1a1aff" stroke-width="1" fill="none"/>
<path d="M375.45 235.76L379.05 239.36M375.45 239.36L379.05 235.76" stroke="#1a1aff" stroke-width="1" fill="none"/>
<path d="M395.40 308.64L399.00 312.24M395.40 312.24L399.00 308.64" stroke="#1a1aff" stroke-width="1" fill="none"/>
<polyline points="239.20,221.70 257.55,221.70 277.50,244.36 297.45,241.71 317.40,234.92 337.35,230.76 357.30,230.01 377.25,231.33 397.20,299.30" fill="none" stroke="#222222" stroke-width="1.3" stroke-linejoin="round"/>
<rect x="236.90" y="219.40" width="4.60" height="4.60" fill="#000000"/>
<rect x="255.25" y="219.40" width="4.60" height="4.60" fill="#000000"/>
<rect x="275.20" y="242.06" width="4.60" height="4.60" fill="#000000"/>
<rect x="295.15" y="239.41" width="4.60" height="4.60" fill="#000000"/>
<rect x="315.10" y="232.62" width="4.60" height="4.60" fill="#000000"/>
<rect x="335.05" y="228.46" width="4.60" height="4.60" fill="#000000"/>
<rect x="355.00" y="227.71" width="4.60" height="4.60" fill="#000000"/>
<rect x="374.95" y="229.03" width="4.60" height="4.60" fill="#000000"/>
<rect x="394.90" y="297.00" width="4.60" height="4.60" fill="#000000"/>
<polyline points="239.20,232.08 257.55,229.82 277.50,249.64 297.45,249.26 317.40,243.79 337.35,239.82 357.30,239.82 377.25,240.77 397.20,300.24" fill="none" stroke="#c4c400" stroke-width="1.3" stroke-linejoin="round"/>
<circle cx="239.20" cy="232.08" r="2.50" fill="#bfbf00"/>
<circle cx="257.55" cy="229.82" r="2.50" fill="#bfbf00"/>
<circle cx="277.50" cy="249.64" r="2.50" fill="#bfbf00"/>
<circle cx="297.45" cy="249.26" r="2.50" fill="#bfbf00"/>
<circle cx="317.40" cy="243.79" r="2.50" fill="#bfbf00"/>
<circle cx="337.35" cy="239.82" r="2.50" fill="#bfbf00"/>
<circle cx="357.30" cy="239.82" r="2.50" fill="#bfbf00"/>
<circle cx="377.25" cy="240.77" r="2.50" fill="#bfbf00"/>
<circle cx="397.20" cy="300.24" r="2.50" fill="#bfbf00"/>
<polyline points="239.20,268.33 257.55,219.24 277.50,187.90 297.45,186.96 317.40,194.32 337.35,204.14 357.30,216.22 377.25,230.38 397.20,300.24" fill="none" stroke="#ff20ff" stroke-width="1.3" stroke-linejoin="round"/>
<path d="M237.00 268.33L241.40 268.33M239.20 266.13L239.20 270.53" stroke="#ff00ff" stroke-width="1" fill="none"/>
<path d="M255.35 219.24L259.75 219.24M257.55 217.04L257.55 221.44" stroke="#ff00ff" stroke-width="1" fill="none"/>
<path d="M275.30 187.90L279.70 187.90M277.50 185.70L277.50 190.10" stroke="#ff00ff" stroke-width="1" fill="none"/>
<path d="M295.25 186.96L299.65 186.96M297.45 184.76L297.45 189.16" stroke="#ff00ff" stroke-width="1" fill="none"/>
<path d="M315.20 194.32L319.60 194.32M317.40 192.12L317.40 196.52" stroke="#ff00ff" stroke-width="1" fill="none"/>
<path d="M335.15 204.14L339.55 204.14M337.35 201.94L337.35 206.34" stroke="#ff00ff" stroke-width="1" fill="none"/>
<path d="M355.10 216.22L359.50 216.22M357.30 214.02L357.30 218.42" stroke="#ff00ff" stroke-width="1" fill="none"/>
<path d="M375.05 230.38L379.45 230.38M377.25 228.18L377.25 232.58" stroke="#ff00ff" stroke-width="1" fill="none"/>
<path d="M395.00 300.24L399.40 300.24M397.20 298.04L397.20 302.44" stroke="#ff00ff" stroke-width="1" fill="none"/>
<polyline points="239.20,278.34 257.55,227.17 277.50,203.95 297.45,212.07 317.40,221.32 337.35,227.17 357.30,236.24 377.25,248.13 397.20,303.83" fill="none" stroke="#1cc8c6" stroke-width="1.3" stroke-linejoin="round"/>
<path d="M239.20 275.04L241.40 278.34L239.20 281.64L237.00 278.34Z" fill="#00c0c0"/>
<path d="M257.55 223.87L259.75 227.17L257.55 230.47L255.35 227.17Z" fill="#00c0c0"/>
<path d="M277.50 200.65L279.70 203.95L277.50 207.25L275.30 203.95Z" fill="#00c0c0"/>
<path d="M297.45 208.77L299.65 212.07L297.45 215.37L295.25 212.07Z" fill="#00c0c0"/>
<path d="M317.40 218.02L319.60 221.32L317.40 224.62L315.20 221.32Z" fill="#00c0c0"/>
<path d="M337.35 223.87L339.55 227.17L337.35 230.47L335.15 227.17Z" fill="#00c0c0"/>
<path d="M357.30 232.94L359.50 236.24L357.30 239.54L355.10 236.24Z" fill="#00c0c0"/>
<path d="M377.25 244.83L379.45 248.13L377.25 251.43L375.05 248.13Z" fill="#00c0c0"/>
<path d="M397.20 300.53L399.40 303.83L397.20 307.13L395.00 303.83Z" fill="#00c0c0"/>
<polyline points="239.20,235.67 257.55,233.97 277.50,247.19 297.45,245.11 317.40,240.39 337.35,239.82 357.30,240.01 377.25,245.30 397.20,284.00" fill="none" stroke="#ff7a30" stroke-width="1.3" stroke-linejoin="round"/>
<path d="M239.20 232.47L242.10 235.67L239.20 238.87L236.30 235.67Z" fill="#ff6a14"/>
<path d="M257.55 230.77L260.45 233.97L257.55 237.17L254.65 233.97Z" fill="#ff6a14"/>
<path d="M277.50 243.99L280.40 247.19L277.50 250.39L274.60 247.19Z" fill="#ff6a14"/>
<path d="M297.45 241.91L300.35 245.11L297.45 248.31L294.55 245.11Z" fill="#ff6a14"/>
<path d="M317.40 237.19L320.30 240.39L317.40 243.59L314.50 240.39Z" fill="#ff6a14"/>
<path d="M337.35 236.62L340.25 239.82L337.35 243.02L334.45 239.82Z" fill="#ff6a14"/>
<path d="M357.30 236.81L360.20 240.01L357.30 243.21L354.40 240.01Z" fill="#ff6a14"/>
<path d="M377.25 242.10L380.15 245.30L377.25 248.50L374.35 245.30Z" fill="#ff6a14"/>
<path d="M397.20 280.80L400.10 284.00L397.20 287.20L394.30 284.00Z" fill="#ff6a14"/>
<polyline points="239.20,266.07 257.55,214.71 277.50,184.69 297.45,184.88 317.40,192.44 337.35,202.44 357.30,215.28 377.25,230.01 397.20,299.30" fill="none" stroke="#a8a8a8" stroke-width="1.3" stroke-linejoin="round"/>
<circle cx="239.20" cy="266.07" r="2.50" fill="#999999"/>
<circle cx="257.55" cy="214.71" r="2.50" fill="#999999"/>
<circle cx="277.50" cy="184.69" r="2.50" fill="#999999"/>
<circle cx="297.45" cy="184.88" r="2.50" fill="#999999"/>
<circle cx="317.40" cy="192.44" r="2.50" fill="#999999"/>
<circle cx="337.35" cy="202.44" r="2.50" fill="#999999"/>
<circle cx="357.30" cy="215.28" r="2.50" fill="#999999"/>
<circle cx="377.25" cy="230.01" r="2.50" fill="#999999"/>
<circle cx="397.20" cy="299.30" r="2.50" fill="#999999"/>
<polyline points="239.20,221.70 257.55,221.70 277.50,245.49 297.45,243.60 317.40,235.67 337.35,230.76 357.30,230.01 377.25,231.33 397.20,297.22" fill="none" stroke="#ffa0b8" stroke-width="1.3" stroke-linejoin="round"/>
<path d="M236.70 221.70L241.70 219.20L241.70 224.20Z" fill="#ff99b4"/>
<path d="M255.05 221.70L260.05 219.20L260.05 224.20Z" fill="#ff99b4"/>
<path d="M275.00 245.49L280.00 242.99L280.00 247.99Z" fill="#ff99b4"/>
<path d="M294.95 243.60L299.95 241.10L299.95 246.10Z" fill="#ff99b4"/>
<path d="M314.90 235.67L319.90 233.17L319.90 238.17Z" fill="#ff99b4"/>
<path d="M334.85 230.76L339.85 228.26L339.85 233.26Z" fill="#ff99b4"/>
<path d="M354.80 230.01L359.80 227.51L359.80 232.51Z" fill="#ff99b4"/>
<path d="M374.75 231.33L379.75 228.83L379.75 233.83Z" fill="#ff99b4"/>
<path d="M394.70 297.22L399.70 294.72L399.70 299.72Z" fill="#ff99b4"/>
</g>
<rect x="231.40" y="178.40" width="174.00" height="139.00" fill="none" stroke="#999999" stroke-width="1.2"/>
<text x="398.40" y="195.10" font-size="12" fill="#1a1a1a" stroke="#1a1a1a" stroke-width="0.12" text-anchor="end">(d)</text>
<defs><clipPath id="clip_e"><rect x="23.40" y="345.50" width="173.50" height="139.50"/></clipPath></defs>
<text transform="scale(0.850 1)" x="111.88 116.94 122.00 127.06 132.12 137.18 142.24 147.29" y="342.90" font-size="7.80" fill="#2e2e2e" text-anchor="middle" font-weight="normal" stroke="#2e2e2e" stroke-width="0.30" >Dolphins</text>
<line x1="21.60" y1="480.60" x2="23.40" y2="480.60" stroke="#999999" stroke-width="0.8"/>
<text transform="scale(0.850 1)" x="11.35 15.59 21.47" y="484.20" font-size="8.40" fill="#2e2e2e" text-anchor="middle" font-weight="normal" stroke="#2e2e2e" stroke-width="0.18" >0.0</text>
<line x1="21.60" y1="464.80" x2="23.40" y2="464.80" stroke="#999999" stroke-width="0.8"/>
<text transform="scale(0.850 1)" x="11.35 15.59 21.47" y="468.40" font-size="8.40" fill="#2e2e2e" text-anchor="middle" font-weight="normal" stroke="#2e2e2e" stroke-width="0.18" >0.1</text>
<line x1="21.60" y1="449.00" x2="23.40" y2="449.00" stroke="#999999" stroke-width="0.8"/>
<text transform="scale(0.850 1)" x="11.35 15.59 21.47" y="452.60" font-size="8.40" fill="#2e2e2e" text-anchor="middle" font-weight="normal" stroke="#2e2e2e" stroke-width="0.18" >0.2</text>
<line x1="21.60" y1="433.20" x2="23.40" y2="433.20" stroke="#999999" stroke-width="0.8"/>
<text transform="scale(0.850 1)" x="11.35 15.59 21.47" y="436.80" font-size="8.40" fill="#2e2e2e" text-anchor="middle" font-weight="normal" stroke="#2e2e2e" stroke-width="0.18" >0.3</text>
<line x1="21.60" y1="417.40" x2="23.40" y2="417.40" stroke="#999999" stroke-width="0.8"/>
<text transform="scale(0.850 1)" x="11.35 15.59 21.47" y="421.00" font-size="8.40" fill="#2e2e2e" text-anchor="middle" font-weight="normal" stroke="#2e2e2e" stroke-width="0.18" >0.4</text>
<line x1="21.60" y1="401.60" x2="23.40" y2="401.60" stroke="#999999" stroke-width="0.8"/>
<text transform="scale(0.850 1)" x="11.35 15.59 21.47" y="405.20" font-size="8.40" fill="#2e2e2e" text-anchor="middle" font-weight="normal" stroke="#2e2e2e" stroke-width="0.18" >0.5</text>
<line x1="21.60" y1="385.80" x2="23.40" y2="385.80" stroke="#999999" stroke-width="0.8"/>
<text transform="scale(0.850 1)" x="11.35 15.59 21.47" y="389.40" font-size="8.40" fill="#2e2e2e" text-anchor="middle" font-weight="normal" stroke="#2e2e2e" stroke-width="0.18" >0.6</text>
<line x1="21.60" y1="370.00" x2="23.40" y2="370.00" stroke="#999999" stroke-width="0.8"/>
<text transform="scale(0.850 1)" x="11.35 15.59 21.47" y="373.60" font-size="8.40" fill="#2e2e2e" text-anchor="middle" font-weight="normal" stroke="#2e2e2e" stroke-width="0.18" >0.7</text>
<line x1="21.60" y1="354.20" x2="23.40" y2="354.20" stroke="#999999" stroke-width="0.8"/>
<text transform="scale(0.850 1)" x="11.35 15.59 21.47" y="357.80" font-size="8.40" fill="#2e2e2e" text-anchor="middle" font-weight="normal" stroke="#2e2e2e" stroke-width="0.18" >0.8</text>
<line x1="29.40" y1="485.00" x2="29.40" y2="486.80" stroke="#999999" stroke-width="0.8"/>
<text transform="scale(0.850 1)" x="29.53 33.76 39.65" y="494.60" font-size="8.40" fill="#2e2e2e" text-anchor="middle" font-weight="normal" stroke="#2e2e2e" stroke-width="0.18" >0.0</text>
<line x1="61.32" y1="485.00" x2="61.32" y2="486.80" stroke="#999999" stroke-width="0.8"/>
<text transform="scale(0.850 1)" x="67.08 71.32 77.20" y="494.60" font-size="8.40" fill="#2e2e2e" text-anchor="middle" font-weight="normal" stroke="#2e2e2e" stroke-width="0.18" >0.2</text>
<line x1="93.24" y1="485.00" x2="93.24" y2="486.80" stroke="#999999" stroke-width="0.8"/>
<text transform="scale(0.850 1)" x="104.64 108.87 114.75" y="494.60" font-size="8.40" fill="#2e2e2e" text-anchor="middle" font-weight="normal" stroke="#2e2e2e" stroke-width="0.18" >0.4</text>
<line x1="125.16" y1="485.00" x2="125.16" y2="486.80" stroke="#999999" stroke-width="0.8"/>
<text transform="scale(0.850 1)" x="142.19 146.42 152.31" y="494.60" font-size="8.40" fill="#2e2e2e" text-anchor="middle" font-weight="normal" stroke="#2e2e2e" stroke-width="0.18" >0.6</text>
<line x1="157.08" y1="485.00" x2="157.08" y2="486.80" stroke="#999999" stroke-width="0.8"/>
<text transform="scale(0.850 1)" x="179.74 183.98 189.86" y="494.60" font-size="8.40" fill="#2e2e2e" text-anchor="middle" font-weight="normal" stroke="#2e2e2e" stroke-width="0.18" >0.8</text>
<line x1="189.00" y1="485.00" x2="189.00" y2="486.80" stroke="#999999" stroke-width="0.8"/>
<text transform="scale(0.850 1)" x="217.29 221.53 227.41" y="494.60" font-size="8.40" fill="#2e2e2e" text-anchor="middle" font-weight="normal" stroke="#2e2e2e" stroke-width="0.18" >1.0</text>
<text x="110.15" y="502.80" font-size="8.5" fill="#2e2e2e" text-anchor="middle">β</text>
<text x="0" y="0" font-size="7" fill="#2e2e2e" text-anchor="middle" transform="translate(7.10 418.15) rotate(-90)">τ</text>
<line x1="56.85" y1="347.10" x2="56.85" y2="483.50" stroke="#ff5070" stroke-width="1.1" opacity="0.28"/>
<line x1="56.85" y1="347.10" x2="56.85" y2="483.50" stroke="#ff3a55" stroke-width="1.15" stroke-dasharray="2 1.3" opacity="0.75"/>
<text x="57.85" y="449.40" font-size="9.00" fill="#ff2a2a" stroke="#ff2a2a" stroke-width="0.2">β</text>
<text transform="scale(0.850 1)" x="79.35 84.41 89.47 94.53 99.59 103.82 109.71 114.77 119.82" y="449.40" font-size="8.40" fill="#ff2a2a" text-anchor="middle" font-weight="normal" stroke="#ff2a2a" stroke-width="0.18" >c = 0.172</text>
<g clip-path="url(#clip_e)">
<polyline points="31.00,399.39 49.35,358.47 69.30,355.46 89.25,351.51 109.20,357.83 129.15,375.85 149.10,385.80 169.05,421.35 189.00,470.96" fill="none" stroke="#ff2020" stroke-width="1.3" stroke-linejoin="round"/>
<circle cx="31.00" cy="399.39" r="2.50" fill="#ff0000"/>
<circle cx="49.35" cy="358.47" r="2.50" fill="#ff0000"/>
<circle cx="69.30" cy="355.46" r="2.50" fill="#ff0000"/>
<circle cx="89.25" cy="351.51" r="2.50" fill="#ff0000"/>
<circle cx="109.20" cy="357.83" r="2.50" fill="#ff0000"/>
<circle cx="129.15" cy="375.85" r="2.50" fill="#ff0000"/>
<circle cx="149.10" cy="385.80" r="2.50" fill="#ff0000"/>
<circle cx="169.05" cy="421.35" r="2.50" fill="#ff0000"/>
<circle cx="189.00" cy="470.96" r="2.50" fill="#ff0000"/>
<polyline points="31.00,402.23 49.35,386.12 69.30,382.64 89.25,375.85 109.20,374.27 129.15,376.95 149.10,379.01 169.05,408.08 189.00,450.58" fill="none" stroke="#2020ff" stroke-width="1.3" stroke-linejoin="round"/>
<path d="M29.20 400.43L32.80 404.03M29.20 404.03L32.80 400.43" stroke="#1a1aff" stroke-width="1" fill="none"/>
<path d="M47.55 384.32L51.15 387.92M47.55 387.92L51.15 384.32" stroke="#1a1aff" stroke-width="1" fill="none"/>
<path d="M67.50 380.84L71.10 384.44M67.50 384.44L71.10 380.84" stroke="#1a1aff" stroke-width="1" fill="none"/>
<path d="M87.45 374.05L91.05 377.65M87.45 377.65L91.05 374.05" stroke="#1a1aff" stroke-width="1" fill="none"/>
<path d="M107.40 372.47L111.00 376.07M107.40 376.07L111.00 372.47" stroke="#1a1aff" stroke-width="1" fill="none"/>
<path d="M127.35 375.15L130.95 378.75M127.35 378.75L130.95 375.15" stroke="#1a1aff" stroke-width="1" fill="none"/>
<path d="M147.30 377.21L150.90 380.81M147.30 380.81L150.90 377.21" stroke="#1a1aff" stroke-width="1" fill="none"/>
<path d="M167.25 406.28L170.85 409.88M167.25 409.88L170.85 406.28" stroke="#1a1aff" stroke-width="1" fill="none"/>
<path d="M187.20 448.78L190.80 452.38M187.20 452.38L190.80 448.78" stroke="#1a1aff" stroke-width="1" fill="none"/>
<polyline points="31.00,385.96 49.35,367.95 69.30,397.65 89.25,369.53 109.20,368.89 129.15,385.80 149.10,389.75 169.05,421.35 189.00,453.27" fill="none" stroke="#222222" stroke-width="1.3" stroke-linejoin="round"/>
<rect x="28.70" y="383.66" width="4.60" height="4.60" fill="#000000"/>
<rect x="47.05" y="365.65" width="4.60" height="4.60" fill="#000000"/>
<rect x="67.00" y="395.35" width="4.60" height="4.60" fill="#000000"/>
<rect x="86.95" y="367.23" width="4.60" height="4.60" fill="#000000"/>
<rect x="106.90" y="366.59" width="4.60" height="4.60" fill="#000000"/>
<rect x="126.85" y="383.50" width="4.60" height="4.60" fill="#000000"/>
<rect x="146.80" y="387.45" width="4.60" height="4.60" fill="#000000"/>
<rect x="166.75" y="419.05" width="4.60" height="4.60" fill="#000000"/>
<rect x="186.70" y="450.97" width="4.60" height="4.60" fill="#000000"/>
<polyline points="31.00,410.45 49.35,403.65 69.30,354.52 89.25,401.60 109.20,396.39 129.15,416.77 149.10,403.18 169.05,423.72 189.00,465.27" fill="none" stroke="#c4c400" stroke-width="1.3" stroke-linejoin="round"/>
<circle cx="31.00" cy="410.45" r="2.50" fill="#bfbf00"/>
<circle cx="49.35" cy="403.65" r="2.50" fill="#bfbf00"/>
<circle cx="69.30" cy="354.52" r="2.50" fill="#bfbf00"/>
<circle cx="89.25" cy="401.60" r="2.50" fill="#bfbf00"/>
<circle cx="109.20" cy="396.39" r="2.50" fill="#bfbf00"/>
<circle cx="129.15" cy="416.77" r="2.50" fill="#bfbf00"/>
<circle cx="149.10" cy="403.18" r="2.50" fill="#bfbf00"/>
<circle cx="169.05" cy="423.72" r="2.50" fill="#bfbf00"/>
<circle cx="189.00" cy="465.27" r="2.50" fill="#bfbf00"/>
<polyline points="31.00,433.99 49.35,394.49 69.30,377.90 89.25,377.74 109.20,388.17 129.15,403.65 149.10,406.02 169.05,417.72 189.00,467.96" fill="none" stroke="#ff20ff" stroke-width="1.3" stroke-linejoin="round"/>
<path d="M28.80 433.99L33.20 433.99M31.00 431.79L31.00 436.19" stroke="#ff00ff" stroke-width="1" fill="none"/>
<path d="M47.15 394.49L51.55 394.49M49.35 392.29L49.35 396.69" stroke="#ff00ff" stroke-width="1" fill="none"/>
<path d="M67.10 377.90L71.50 377.90M69.30 375.70L69.30 380.10" stroke="#ff00ff" stroke-width="1" fill="none"/>
<path d="M87.05 377.74L91.45 377.74M89.25 375.54L89.25 379.94" stroke="#ff00ff" stroke-width="1" fill="none"/>
<path d="M107.00 388.17L111.40 388.17M109.20 385.97L109.20 390.37" stroke="#ff00ff" stroke-width="1" fill="none"/>
<path d="M126.95 403.65L131.35 403.65M129.15 401.45L129.15 405.85" stroke="#ff00ff" stroke-width="1" fill="none"/>
<path d="M146.90 406.02L151.30 406.02M149.10 403.82L149.10 408.22" stroke="#ff00ff" stroke-width="1" fill="none"/>
<path d="M166.85 417.72L171.25 417.72M169.05 415.52L169.05 419.92" stroke="#ff00ff" stroke-width="1" fill="none"/>
<path d="M186.80 467.96L191.20 467.96M189.00 465.76L189.00 470.16" stroke="#ff00ff" stroke-width="1" fill="none"/>
<polyline points="31.00,433.83 49.35,385.01 69.30,365.58 89.25,382.32 109.20,389.28 129.15,404.76 149.10,414.71 169.05,432.73 189.00,478.86" fill="none" stroke="#1cc8c6" stroke-width="1.3" stroke-linejoin="round"/>
<path d="M31.00 430.53L33.20 433.83L31.00 437.13L28.80 433.83Z" fill="#00c0c0"/>
<path d="M49.35 381.71L51.55 385.01L49.35 388.31L47.15 385.01Z" fill="#00c0c0"/>
<path d="M69.30 362.28L71.50 365.58L69.30 368.88L67.10 365.58Z" fill="#00c0c0"/>
<path d="M89.25 379.02L91.45 382.32L89.25 385.62L87.05 382.32Z" fill="#00c0c0"/>
<path d="M109.20 385.98L111.40 389.28L109.20 392.58L107.00 389.28Z" fill="#00c0c0"/>
<path d="M129.15 401.46L131.35 404.76L129.15 408.06L126.95 404.76Z" fill="#00c0c0"/>
<path d="M149.10 411.41L151.30 414.71L149.10 418.01L146.90 414.71Z" fill="#00c0c0"/>
<path d="M169.05 429.43L171.25 432.73L169.05 436.03L166.85 432.73Z" fill="#00c0c0"/>
<path d="M189.00 475.56L191.20 478.86L189.00 482.16L186.80 478.86Z" fill="#00c0c0"/>
<polyline points="31.00,407.45 49.35,393.70 69.30,375.85 89.25,391.65 109.20,392.75 129.15,407.60 149.10,410.76 169.05,424.83 189.00,444.26" fill="none" stroke="#ff7a30" stroke-width="1.3" stroke-linejoin="round"/>
<path d="M31.00 404.25L33.90 407.45L31.00 410.65L28.10 407.45Z" fill="#ff6a14"/>
<path d="M49.35 390.50L52.25 393.70L49.35 396.90L46.45 393.70Z" fill="#ff6a14"/>
<path d="M69.30 372.65L72.20 375.85L69.30 379.05L66.40 375.85Z" fill="#ff6a14"/>
<path d="M89.25 388.45L92.15 391.65L89.25 394.85L86.35 391.65Z" fill="#ff6a14"/>
<path d="M109.20 389.55L112.10 392.75L109.20 395.95L106.30 392.75Z" fill="#ff6a14"/>
<path d="M129.15 404.40L132.05 407.60L129.15 410.80L126.25 407.60Z" fill="#ff6a14"/>
<path d="M149.10 407.56L152.00 410.76L149.10 413.96L146.20 410.76Z" fill="#ff6a14"/>
<path d="M169.05 421.63L171.95 424.83L169.05 428.03L166.15 424.83Z" fill="#ff6a14"/>
<path d="M189.00 441.06L191.90 444.26L189.00 447.46L186.10 444.26Z" fill="#ff6a14"/>
<polyline points="31.00,413.45 49.35,368.42 69.30,404.13 89.25,355.15 109.20,367.95 129.15,385.80 149.10,395.28 169.05,419.77 189.00,472.54" fill="none" stroke="#a8a8a8" stroke-width="1.3" stroke-linejoin="round"/>
<circle cx="31.00" cy="413.45" r="2.50" fill="#999999"/>
<circle cx="49.35" cy="368.42" r="2.50" fill="#999999"/>
<circle cx="69.30" cy="404.13" r="2.50" fill="#999999"/>
<circle cx="89.25" cy="355.15" r="2.50" fill="#999999"/>
<circle cx="109.20" cy="367.95" r="2.50" fill="#999999"/>
<circle cx="129.15" cy="385.80" r="2.50" fill="#999999"/>
<circle cx="149.10" cy="395.28" r="2.50" fill="#999999"/>
<circle cx="169.05" cy="419.77" r="2.50" fill="#999999"/>
<circle cx="189.00" cy="472.54" r="2.50" fill="#999999"/>
<polyline points="31.00,385.96 49.35,366.37 69.30,378.69 89.25,370.47 109.20,370.00 129.15,388.49 149.10,388.49 169.05,417.72 189.00,456.27" fill="none" stroke="#ffa0b8" stroke-width="1.3" stroke-linejoin="round"/>
<path d="M28.50 385.96L33.50 383.46L33.50 388.46Z" fill="#ff99b4"/>
<path d="M46.85 366.37L51.85 363.87L51.85 368.87Z" fill="#ff99b4"/>
<path d="M66.80 378.69L71.80 376.19L71.80 381.19Z" fill="#ff99b4"/>
<path d="M86.75 370.47L91.75 367.97L91.75 372.97Z" fill="#ff99b4"/>
<path d="M106.70 370.00L111.70 367.50L111.70 372.50Z" fill="#ff99b4"/>
<path d="M126.65 388.49L131.65 385.99L131.65 390.99Z" fill="#ff99b4"/>
<path d="M146.60 388.49L151.60 385.99L151.60 390.99Z" fill="#ff99b4"/>
<path d="M166.55 417.72L171.55 415.22L171.55 420.22Z" fill="#ff99b4"/>
<path d="M186.50 456.27L191.50 453.77L191.50 458.77Z" fill="#ff99b4"/>
</g>
<rect x="23.40" y="345.50" width="173.50" height="139.50" fill="none" stroke="#999999" stroke-width="1.2"/>
<text x="190.20" y="360.90" font-size="12" fill="#1a1a1a" stroke="#1a1a1a" stroke-width="0.12" text-anchor="end">(e)</text>
<defs><clipPath id="clip_f"><rect x="231.40" y="345.50" width="174.00" height="139.50"/></clipPath></defs>
<text transform="scale(0.850 1)" x="356.88 361.94 367.00 372.06 377.12 382.18 387.24 392.29" y="342.90" font-size="7.80" fill="#2e2e2e" text-anchor="middle" font-weight="normal" stroke="#2e2e2e" stroke-width="0.30" >PolBooks</text>
<line x1="229.60" y1="460.40" x2="231.40" y2="460.40" stroke="#999999" stroke-width="0.8"/>
<text transform="scale(0.850 1)" x="256.06 260.29 266.18" y="464.00" font-size="8.40" fill="#2e2e2e" text-anchor="middle" font-weight="normal" stroke="#2e2e2e" stroke-width="0.18" >0.0</text>
<line x1="229.60" y1="434.05" x2="231.40" y2="434.05" stroke="#999999" stroke-width="0.8"/>
<text transform="scale(0.850 1)" x="256.06 260.29 266.18" y="437.65" font-size="8.40" fill="#2e2e2e" text-anchor="middle" font-weight="normal" stroke="#2e2e2e" stroke-width="0.18" >0.2</text>
<line x1="229.60" y1="407.70" x2="231.40" y2="407.70" stroke="#999999" stroke-width="0.8"/>
<text transform="scale(0.850 1)" x="256.06 260.29 266.18" y="411.30" font-size="8.40" fill="#2e2e2e" text-anchor="middle" font-weight="normal" stroke="#2e2e2e" stroke-width="0.18" >0.4</text>
<line x1="229.60" y1="381.35" x2="231.40" y2="381.35" stroke="#999999" stroke-width="0.8"/>
<text transform="scale(0.850 1)" x="256.06 260.29 266.18" y="384.95" font-size="8.40" fill="#2e2e2e" text-anchor="middle" font-weight="normal" stroke="#2e2e2e" stroke-width="0.18" >0.6</text>
<line x1="229.60" y1="355.00" x2="231.40" y2="355.00" stroke="#999999" stroke-width="0.8"/>
<text transform="scale(0.850 1)" x="256.06 260.29 266.18" y="358.60" font-size="8.40" fill="#2e2e2e" text-anchor="middle" font-weight="normal" stroke="#2e2e2e" stroke-width="0.18" >0.8</text>
<line x1="237.60" y1="485.00" x2="237.60" y2="486.80" stroke="#999999" stroke-width="0.8"/>
<text transform="scale(0.850 1)" x="274.47 278.71 284.59" y="494.60" font-size="8.40" fill="#2e2e2e" text-anchor="middle" font-weight="normal" stroke="#2e2e2e" stroke-width="0.18" >0.0</text>
<line x1="269.52" y1="485.00" x2="269.52" y2="486.80" stroke="#999999" stroke-width="0.8"/>
<text transform="scale(0.850 1)" x="312.02 316.26 322.14" y="494.60" font-size="8.40" fill="#2e2e2e" text-anchor="middle" font-weight="normal" stroke="#2e2e2e" stroke-width="0.18" >0.2</text>
<line x1="301.44" y1="485.00" x2="301.44" y2="486.80" stroke="#999999" stroke-width="0.8"/>
<text transform="scale(0.850 1)" x="349.58 353.81 359.69" y="494.60" font-size="8.40" fill="#2e2e2e" text-anchor="middle" font-weight="normal" stroke="#2e2e2e" stroke-width="0.18" >0.4</text>
<line x1="333.36" y1="485.00" x2="333.36" y2="486.80" stroke="#999999" stroke-width="0.8"/>
<text transform="scale(0.850 1)" x="387.13 391.36 397.25" y="494.60" font-size="8.40" fill="#2e2e2e" text-anchor="middle" font-weight="normal" stroke="#2e2e2e" stroke-width="0.18" >0.6</text>
<line x1="365.28" y1="485.00" x2="365.28" y2="486.80" stroke="#999999" stroke-width="0.8"/>
<text transform="scale(0.850 1)" x="424.68 428.92 434.80" y="494.60" font-size="8.40" fill="#2e2e2e" text-anchor="middle" font-weight="normal" stroke="#2e2e2e" stroke-width="0.18" >0.8</text>
<line x1="397.20" y1="485.00" x2="397.20" y2="486.80" stroke="#999999" stroke-width="0.8"/>
<text transform="scale(0.850 1)" x="462.24 466.47 472.35" y="494.60" font-size="8.40" fill="#2e2e2e" text-anchor="middle" font-weight="normal" stroke="#2e2e2e" stroke-width="0.18" >1.0</text>
<text x="318.40" y="502.80" font-size="8.5" fill="#2e2e2e" text-anchor="middle">β</text>
<text x="0" y="0" font-size="7" fill="#2e2e2e" text-anchor="middle" transform="translate(215.10 418.15) rotate(-90)">τ</text>
<line x1="252.12" y1="347.10" x2="252.12" y2="483.50" stroke="#ff5070" stroke-width="1.1" opacity="0.28"/>
<line x1="252.12" y1="347.10" x2="252.12" y2="483.50" stroke="#ff3a55" stroke-width="1.15" stroke-dasharray="2 1.3" opacity="0.75"/>
<text x="253.12" y="434.20" font-size="9.00" fill="#ff2a2a" stroke="#ff2a2a" stroke-width="0.2">β</text>
<text transform="scale(0.850 1)" x="309.09 314.15 319.20 324.26 329.32 333.56 339.44 344.50 349.56" y="434.20" font-size="8.40" fill="#ff2a2a" text-anchor="middle" font-weight="normal" stroke="#ff2a2a" stroke-width="0.18" >c = 0.091</text>
<g clip-path="url(#clip_f)">
<polyline points="239.20,376.87 257.55,357.24 277.50,351.84 297.45,357.63 317.40,374.50 337.35,412.31 357.30,440.64 377.25,445.64 397.20,428.65" fill="none" stroke="#ff2020" stroke-width="1.3" stroke-linejoin="round"/>
<circle cx="239.20" cy="376.87" r="2.50" fill="#ff0000"/>
<circle cx="257.55" cy="357.24" r="2.50" fill="#ff0000"/>
<circle cx="277.50" cy="351.84" r="2.50" fill="#ff0000"/>
<circle cx="297.45" cy="357.63" r="2.50" fill="#ff0000"/>
<circle cx="317.40" cy="374.50" r="2.50" fill="#ff0000"/>
<circle cx="337.35" cy="412.31" r="2.50" fill="#ff0000"/>
<circle cx="357.30" cy="440.64" r="2.50" fill="#ff0000"/>
<circle cx="377.25" cy="445.64" r="2.50" fill="#ff0000"/>
<circle cx="397.20" cy="428.65" r="2.50" fill="#ff0000"/>
<polyline points="239.20,388.86 257.55,376.08 277.50,374.76 297.45,376.87 317.40,384.25 337.35,411.65 357.30,441.95 377.25,448.54 397.20,435.89" fill="none" stroke="#2020ff" stroke-width="1.3" stroke-linejoin="round"/>
<path d="M237.40 387.06L241.00 390.66M237.40 390.66L241.00 387.06" stroke="#1a1aff" stroke-width="1" fill="none"/>
<path d="M255.75 374.28L259.35 377.88M255.75 377.88L259.35 374.28" stroke="#1a1aff" stroke-width="1" fill="none"/>
<path d="M275.70 372.96L279.30 376.56M275.70 376.56L279.30 372.96" stroke="#1a1aff" stroke-width="1" fill="none"/>
<path d="M295.65 375.07L299.25 378.67M295.65 378.67L299.25 375.07" stroke="#1a1aff" stroke-width="1" fill="none"/>
<path d="M315.60 382.45L319.20 386.05M315.60 386.05L319.20 382.45" stroke="#1a1aff" stroke-width="1" fill="none"/>
<path d="M335.55 409.85L339.15 413.45M335.55 413.45L339.15 409.85" stroke="#1a1aff" stroke-width="1" fill="none"/>
<path d="M355.50 440.15L359.10 443.75M355.50 443.75L359.10 440.15" stroke="#1a1aff" stroke-width="1" fill="none"/>
<path d="M375.45 446.74L379.05 450.34M375.45 450.34L379.05 446.74" stroke="#1a1aff" stroke-width="1" fill="none"/>
<path d="M395.40 434.09L399.00 437.69M395.40 437.69L399.00 434.09" stroke="#1a1aff" stroke-width="1" fill="none"/>
<polyline points="239.20,369.23 257.55,365.54 277.50,356.45 297.45,359.35 317.40,378.98 337.35,412.05 357.30,439.32 377.25,444.85 397.20,429.44" fill="none" stroke="#222222" stroke-width="1.3" stroke-linejoin="round"/>
<rect x="236.90" y="366.93" width="4.60" height="4.60" fill="#000000"/>
<rect x="255.25" y="363.24" width="4.60" height="4.60" fill="#000000"/>
<rect x="275.20" y="354.15" width="4.60" height="4.60" fill="#000000"/>
<rect x="295.15" y="357.05" width="4.60" height="4.60" fill="#000000"/>
<rect x="315.10" y="376.68" width="4.60" height="4.60" fill="#000000"/>
<rect x="335.05" y="409.75" width="4.60" height="4.60" fill="#000000"/>
<rect x="355.00" y="437.02" width="4.60" height="4.60" fill="#000000"/>
<rect x="374.95" y="442.55" width="4.60" height="4.60" fill="#000000"/>
<rect x="394.90" y="427.14" width="4.60" height="4.60" fill="#000000"/>
<polyline points="239.20,409.15 257.55,415.74 277.50,407.17 297.45,402.03 317.40,410.47 337.35,434.45 357.30,445.25 377.25,451.05 397.20,432.86" fill="none" stroke="#c4c400" stroke-width="1.3" stroke-linejoin="round"/>
<circle cx="239.20" cy="409.15" r="2.50" fill="#bfbf00"/>
<circle cx="257.55" cy="415.74" r="2.50" fill="#bfbf00"/>
<circle cx="277.50" cy="407.17" r="2.50" fill="#bfbf00"/>
<circle cx="297.45" cy="402.03" r="2.50" fill="#bfbf00"/>
<circle cx="317.40" cy="410.47" r="2.50" fill="#bfbf00"/>
<circle cx="337.35" cy="434.45" r="2.50" fill="#bfbf00"/>
<circle cx="357.30" cy="445.25" r="2.50" fill="#bfbf00"/>
<circle cx="377.25" cy="451.05" r="2.50" fill="#bfbf00"/>
<circle cx="397.20" cy="432.86" r="2.50" fill="#bfbf00"/>
<polyline points="239.20,421.14 257.55,412.05 277.50,407.96 297.45,410.07 317.40,411.39 337.35,435.37 357.30,444.85 377.25,448.54 397.20,418.64" fill="none" stroke="#ff20ff" stroke-width="1.3" stroke-linejoin="round"/>
<path d="M237.00 421.14L241.40 421.14M239.20 418.94L239.20 423.34" stroke="#ff00ff" stroke-width="1" fill="none"/>
<path d="M255.35 412.05L259.75 412.05M257.55 409.85L257.55 414.25" stroke="#ff00ff" stroke-width="1" fill="none"/>
<path d="M275.30 407.96L279.70 407.96M277.50 405.76L277.50 410.16" stroke="#ff00ff" stroke-width="1" fill="none"/>
<path d="M295.25 410.07L299.65 410.07M297.45 407.87L297.45 412.27" stroke="#ff00ff" stroke-width="1" fill="none"/>
<path d="M315.20 411.39L319.60 411.39M317.40 409.19L317.40 413.59" stroke="#ff00ff" stroke-width="1" fill="none"/>
<path d="M335.15 435.37L339.55 435.37M337.35 433.17L337.35 437.57" stroke="#ff00ff" stroke-width="1" fill="none"/>
<path d="M355.10 444.85L359.50 444.85M357.30 442.65L357.30 447.05" stroke="#ff00ff" stroke-width="1" fill="none"/>
<path d="M375.05 448.54L379.45 448.54M377.25 446.34L377.25 450.74" stroke="#ff00ff" stroke-width="1" fill="none"/>
<path d="M395.00 418.64L399.40 418.64M397.20 416.44L397.20 420.84" stroke="#ff00ff" stroke-width="1" fill="none"/>
<polyline points="239.20,414.55 257.55,387.94 277.50,394.13 297.45,393.21 317.40,395.45 337.35,425.09 357.30,438.66 377.25,454.47 397.20,478.84" fill="none" stroke="#1cc8c6" stroke-width="1.3" stroke-linejoin="round"/>
<path d="M239.20 411.25L241.40 414.55L239.20 417.85L237.00 414.55Z" fill="#00c0c0"/>
<path d="M257.55 384.64L259.75 387.94L257.55 391.24L255.35 387.94Z" fill="#00c0c0"/>
<path d="M277.50 390.83L279.70 394.13L277.50 397.43L275.30 394.13Z" fill="#00c0c0"/>
<path d="M297.45 389.91L299.65 393.21L297.45 396.51L295.25 393.21Z" fill="#00c0c0"/>
<path d="M317.40 392.15L319.60 395.45L317.40 398.75L315.20 395.45Z" fill="#00c0c0"/>
<path d="M337.35 421.79L339.55 425.09L337.35 428.39L335.15 425.09Z" fill="#00c0c0"/>
<path d="M357.30 435.36L359.50 438.66L357.30 441.96L355.10 438.66Z" fill="#00c0c0"/>
<path d="M377.25 451.17L379.45 454.47L377.25 457.77L375.05 454.47Z" fill="#00c0c0"/>
<path d="M397.20 475.54L399.40 478.84L397.20 482.14L395.00 478.84Z" fill="#00c0c0"/>
<polyline points="239.20,375.29 257.55,386.75 277.50,380.16 297.45,377.66 317.40,395.45 337.35,421.40 357.30,449.46 377.25,449.86 397.20,426.28" fill="none" stroke="#ff7a30" stroke-width="1.3" stroke-linejoin="round"/>
<path d="M239.20 372.09L242.10 375.29L239.20 378.49L236.30 375.29Z" fill="#ff6a14"/>
<path d="M257.55 383.55L260.45 386.75L257.55 389.95L254.65 386.75Z" fill="#ff6a14"/>
<path d="M277.50 376.96L280.40 380.16L277.50 383.36L274.60 380.16Z" fill="#ff6a14"/>
<path d="M297.45 374.46L300.35 377.66L297.45 380.86L294.55 377.66Z" fill="#ff6a14"/>
<path d="M317.40 392.25L320.30 395.45L317.40 398.65L314.50 395.45Z" fill="#ff6a14"/>
<path d="M337.35 418.20L340.25 421.40L337.35 424.60L334.45 421.40Z" fill="#ff6a14"/>
<path d="M357.30 446.26L360.20 449.46L357.30 452.66L354.40 449.46Z" fill="#ff6a14"/>
<path d="M377.25 446.66L380.15 449.86L377.25 453.06L374.35 449.86Z" fill="#ff6a14"/>
<path d="M397.20 423.08L400.10 426.28L397.20 429.48L394.30 426.28Z" fill="#ff6a14"/>
<polyline points="239.20,391.63 257.55,369.23 277.50,368.70 297.45,372.00 317.40,383.85 337.35,420.22 357.30,440.51 377.25,449.86 397.20,423.25" fill="none" stroke="#a8a8a8" stroke-width="1.3" stroke-linejoin="round"/>
<circle cx="239.20" cy="391.63" r="2.50" fill="#999999"/>
<circle cx="257.55" cy="369.23" r="2.50" fill="#999999"/>
<circle cx="277.50" cy="368.70" r="2.50" fill="#999999"/>
<circle cx="297.45" cy="372.00" r="2.50" fill="#999999"/>
<circle cx="317.40" cy="383.85" r="2.50" fill="#999999"/>
<circle cx="337.35" cy="420.22" r="2.50" fill="#999999"/>
<circle cx="357.30" cy="440.51" r="2.50" fill="#999999"/>
<circle cx="377.25" cy="449.86" r="2.50" fill="#999999"/>
<circle cx="397.20" cy="423.25" r="2.50" fill="#999999"/>
<polyline points="239.20,371.47 257.55,365.94 277.50,357.77 297.45,357.24 317.40,379.37 337.35,409.94 357.30,439.32 377.25,445.91 397.20,430.10" fill="none" stroke="#ffa0b8" stroke-width="1.3" stroke-linejoin="round"/>
<path d="M236.70 371.47L241.70 368.97L241.70 373.97Z" fill="#ff99b4"/>
<path d="M255.05 365.94L260.05 363.44L260.05 368.44Z" fill="#ff99b4"/>
<path d="M275.00 357.77L280.00 355.27L280.00 360.27Z" fill="#ff99b4"/>
<path d="M294.95 357.24L299.95 354.74L299.95 359.74Z" fill="#ff99b4"/>
<path d="M314.90 379.37L319.90 376.87L319.90 381.87Z" fill="#ff99b4"/>
<path d="M334.85 409.94L339.85 407.44L339.85 412.44Z" fill="#ff99b4"/>
<path d="M354.80 439.32L359.80 436.82L359.80 441.82Z" fill="#ff99b4"/>
<path d="M374.75 445.91L379.75 443.41L379.75 448.41Z" fill="#ff99b4"/>
<path d="M394.70 430.10L399.70 427.60L399.70 432.60Z" fill="#ff99b4"/>
</g>
<rect x="231.40" y="345.50" width="174.00" height="139.50" fill="none" stroke="#999999" stroke-width="1.2"/>
<text x="398.40" y="357.10" font-size="12" fill="#1a1a1a" stroke="#1a1a1a" stroke-width="0.12" text-anchor="end">(f)</text>
<rect x="52.30" y="511.60" width="299.00" height="35.70" rx="1.2" fill="#fff" stroke="#d8d8d8" stroke-width="0.9"/>
<line x1="55.00" y1="517.80" x2="73.20" y2="517.80" stroke="#ff2020" stroke-width="1.2" opacity="0.8"/>
<circle cx="64.10" cy="517.80" r="2.50" fill="#ff0000"/>
<text transform="scale(0.850 1)" x="96.18 101.24" y="521.20" font-size="7.90" fill="#2e2e2e" text-anchor="middle" font-weight="normal" stroke="#2e2e2e" stroke-width="0.22" >PE</text>
<line x1="55.00" y1="528.90" x2="73.20" y2="528.90" stroke="#2020ff" stroke-width="1.2" opacity="0.8"/>
<path d="M62.30 527.10L65.90 530.70M62.30 530.70L65.90 527.10" stroke="#1a1aff" stroke-width="1" fill="none"/>
<text transform="scale(0.850 1)" x="96.18 101.24 106.29 111.35 116.41 121.47 126.53 131.59 136.65" y="532.30" font-size="7.90" fill="#2e2e2e" text-anchor="middle" font-weight="normal" stroke="#2e2e2e" stroke-width="0.22" >K-shell++</text>
<line x1="55.00" y1="539.90" x2="73.20" y2="539.90" stroke="#222222" stroke-width="1.2" opacity="0.8"/>
<rect x="61.80" y="537.60" width="4.60" height="4.60" fill="#000000"/>
<text transform="scale(0.850 1)" x="96.18 101.24 106.29 111.35 116.41 121.47" y="543.30" font-size="7.90" fill="#2e2e2e" text-anchor="middle" font-weight="normal" stroke="#2e2e2e" stroke-width="0.22" >Degree</text>
<line x1="134.90" y1="517.80" x2="153.10" y2="517.80" stroke="#c4c400" stroke-width="1.2" opacity="0.8"/>
<circle cx="144.00" cy="517.80" r="2.50" fill="#bfbf00"/>
<text transform="scale(0.850 1)" x="190.06 195.12 200.18 205.24 210.29 215.35 220.41 225.47 230.53 235.59 240.65" y="521.20" font-size="7.90" fill="#2e2e2e" text-anchor="middle" font-weight="normal" stroke="#2e2e2e" stroke-width="0.22" >Betweenness</text>
<line x1="134.90" y1="528.90" x2="153.10" y2="528.90" stroke="#ff20ff" stroke-width="1.2" opacity="0.8"/>
<path d="M141.80 528.90L146.20 528.90M144.00 526.70L144.00 531.10" stroke="#ff00ff" stroke-width="1" fill="none"/>
<text transform="scale(0.850 1)" x="190.06 195.12 200.18 205.24 210.29 215.35 220.41 225.47 230.53" y="532.30" font-size="7.90" fill="#2e2e2e" text-anchor="middle" font-weight="normal" stroke="#2e2e2e" stroke-width="0.22" >Closeness</text>
<line x1="223.00" y1="517.80" x2="241.20" y2="517.80" stroke="#1cc8c6" stroke-width="1.2" opacity="0.8"/>
<path d="M232.10 514.50L234.30 517.80L232.10 521.10L229.90 517.80Z" fill="#00c0c0"/>
<text transform="scale(0.850 1)" x="293.35 298.41 303.47 308.53 313.59 318.65 323.71 328.76 333.82 338.88 343.94" y="521.20" font-size="7.90" fill="#2e2e2e" text-anchor="middle" font-weight="normal" stroke="#2e2e2e" stroke-width="0.22" >Eigenvector</text>
<line x1="223.00" y1="528.90" x2="241.20" y2="528.90" stroke="#ff7a30" stroke-width="1.2" opacity="0.8"/>
<path d="M232.10 525.70L235.00 528.90L232.10 532.10L229.20 528.90Z" fill="#ff6a14"/>
<text transform="scale(0.850 1)" x="293.35 298.41 303.47 308.53 313.59 318.65 323.71" y="532.30" font-size="7.90" fill="#2e2e2e" text-anchor="middle" font-weight="normal" stroke="#2e2e2e" stroke-width="0.22" >H-index</text>
<line x1="310.90" y1="517.80" x2="329.10" y2="517.80" stroke="#a8a8a8" stroke-width="1.2" opacity="0.8"/>
<circle cx="320.00" cy="517.80" r="2.50" fill="#999999"/>
<text transform="scale(0.850 1)" x="397.12 402.18 407.24" y="521.20" font-size="7.90" fill="#2e2e2e" text-anchor="middle" font-weight="normal" stroke="#2e2e2e" stroke-width="0.22" >GIN</text>
<line x1="310.90" y1="528.90" x2="329.10" y2="528.90" stroke="#ffa0b8" stroke-width="1.2" opacity="0.8"/>
<path d="M317.50 528.90L322.50 526.40L322.50 531.40Z" fill="#ff99b4"/>
<text transform="scale(0.850 1)" x="397.12 402.18 407.24" y="532.30" font-size="7.90" fill="#2e2e2e" text-anchor="middle" font-weight="normal" stroke="#2e2e2e" stroke-width="0.22" >LGC</text>
</svg></body></html>
